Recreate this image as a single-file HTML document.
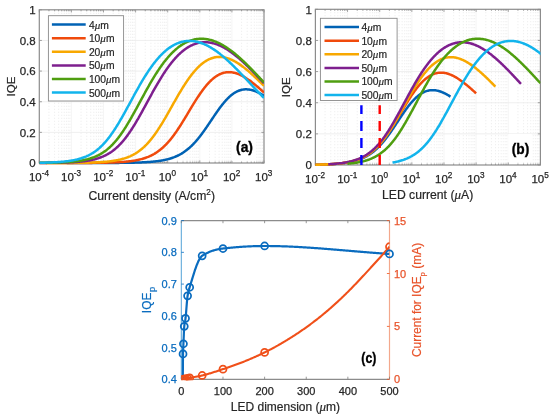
<!DOCTYPE html><html><head><meta charset="utf-8"><style>html,body{margin:0;padding:0;background:#fff;width:550px;height:420px;overflow:hidden}svg{display:block;filter:blur(0.35px)}</style></head><body>
<svg width="550" height="420" viewBox="0 0 550 420">
<rect width="550" height="420" fill="#fff"/>
<clipPath id="ca"><rect x="39.3" y="6.800000000000001" width="224.7" height="159.2"/></clipPath>
<line x1="48.96" y1="9.80" x2="48.96" y2="163.00" stroke="#dadada" stroke-width="0.6" stroke-dasharray="0.9 2.1"/>
<line x1="54.62" y1="9.80" x2="54.62" y2="163.00" stroke="#dadada" stroke-width="0.6" stroke-dasharray="0.9 2.1"/>
<line x1="58.63" y1="9.80" x2="58.63" y2="163.00" stroke="#dadada" stroke-width="0.6" stroke-dasharray="0.9 2.1"/>
<line x1="61.74" y1="9.80" x2="61.74" y2="163.00" stroke="#dadada" stroke-width="0.6" stroke-dasharray="0.9 2.1"/>
<line x1="64.28" y1="9.80" x2="64.28" y2="163.00" stroke="#dadada" stroke-width="0.6" stroke-dasharray="0.9 2.1"/>
<line x1="66.43" y1="9.80" x2="66.43" y2="163.00" stroke="#dadada" stroke-width="0.6" stroke-dasharray="0.9 2.1"/>
<line x1="68.29" y1="9.80" x2="68.29" y2="163.00" stroke="#dadada" stroke-width="0.6" stroke-dasharray="0.9 2.1"/>
<line x1="69.93" y1="9.80" x2="69.93" y2="163.00" stroke="#dadada" stroke-width="0.6" stroke-dasharray="0.9 2.1"/>
<line x1="81.06" y1="9.80" x2="81.06" y2="163.00" stroke="#dadada" stroke-width="0.6" stroke-dasharray="0.9 2.1"/>
<line x1="86.72" y1="9.80" x2="86.72" y2="163.00" stroke="#dadada" stroke-width="0.6" stroke-dasharray="0.9 2.1"/>
<line x1="90.73" y1="9.80" x2="90.73" y2="163.00" stroke="#dadada" stroke-width="0.6" stroke-dasharray="0.9 2.1"/>
<line x1="93.84" y1="9.80" x2="93.84" y2="163.00" stroke="#dadada" stroke-width="0.6" stroke-dasharray="0.9 2.1"/>
<line x1="96.38" y1="9.80" x2="96.38" y2="163.00" stroke="#dadada" stroke-width="0.6" stroke-dasharray="0.9 2.1"/>
<line x1="98.53" y1="9.80" x2="98.53" y2="163.00" stroke="#dadada" stroke-width="0.6" stroke-dasharray="0.9 2.1"/>
<line x1="100.39" y1="9.80" x2="100.39" y2="163.00" stroke="#dadada" stroke-width="0.6" stroke-dasharray="0.9 2.1"/>
<line x1="102.03" y1="9.80" x2="102.03" y2="163.00" stroke="#dadada" stroke-width="0.6" stroke-dasharray="0.9 2.1"/>
<line x1="113.16" y1="9.80" x2="113.16" y2="163.00" stroke="#dadada" stroke-width="0.6" stroke-dasharray="0.9 2.1"/>
<line x1="118.82" y1="9.80" x2="118.82" y2="163.00" stroke="#dadada" stroke-width="0.6" stroke-dasharray="0.9 2.1"/>
<line x1="122.83" y1="9.80" x2="122.83" y2="163.00" stroke="#dadada" stroke-width="0.6" stroke-dasharray="0.9 2.1"/>
<line x1="125.94" y1="9.80" x2="125.94" y2="163.00" stroke="#dadada" stroke-width="0.6" stroke-dasharray="0.9 2.1"/>
<line x1="128.48" y1="9.80" x2="128.48" y2="163.00" stroke="#dadada" stroke-width="0.6" stroke-dasharray="0.9 2.1"/>
<line x1="130.63" y1="9.80" x2="130.63" y2="163.00" stroke="#dadada" stroke-width="0.6" stroke-dasharray="0.9 2.1"/>
<line x1="132.49" y1="9.80" x2="132.49" y2="163.00" stroke="#dadada" stroke-width="0.6" stroke-dasharray="0.9 2.1"/>
<line x1="134.13" y1="9.80" x2="134.13" y2="163.00" stroke="#dadada" stroke-width="0.6" stroke-dasharray="0.9 2.1"/>
<line x1="145.26" y1="9.80" x2="145.26" y2="163.00" stroke="#dadada" stroke-width="0.6" stroke-dasharray="0.9 2.1"/>
<line x1="150.92" y1="9.80" x2="150.92" y2="163.00" stroke="#dadada" stroke-width="0.6" stroke-dasharray="0.9 2.1"/>
<line x1="154.93" y1="9.80" x2="154.93" y2="163.00" stroke="#dadada" stroke-width="0.6" stroke-dasharray="0.9 2.1"/>
<line x1="158.04" y1="9.80" x2="158.04" y2="163.00" stroke="#dadada" stroke-width="0.6" stroke-dasharray="0.9 2.1"/>
<line x1="160.58" y1="9.80" x2="160.58" y2="163.00" stroke="#dadada" stroke-width="0.6" stroke-dasharray="0.9 2.1"/>
<line x1="162.73" y1="9.80" x2="162.73" y2="163.00" stroke="#dadada" stroke-width="0.6" stroke-dasharray="0.9 2.1"/>
<line x1="164.59" y1="9.80" x2="164.59" y2="163.00" stroke="#dadada" stroke-width="0.6" stroke-dasharray="0.9 2.1"/>
<line x1="166.23" y1="9.80" x2="166.23" y2="163.00" stroke="#dadada" stroke-width="0.6" stroke-dasharray="0.9 2.1"/>
<line x1="177.36" y1="9.80" x2="177.36" y2="163.00" stroke="#dadada" stroke-width="0.6" stroke-dasharray="0.9 2.1"/>
<line x1="183.02" y1="9.80" x2="183.02" y2="163.00" stroke="#dadada" stroke-width="0.6" stroke-dasharray="0.9 2.1"/>
<line x1="187.03" y1="9.80" x2="187.03" y2="163.00" stroke="#dadada" stroke-width="0.6" stroke-dasharray="0.9 2.1"/>
<line x1="190.14" y1="9.80" x2="190.14" y2="163.00" stroke="#dadada" stroke-width="0.6" stroke-dasharray="0.9 2.1"/>
<line x1="192.68" y1="9.80" x2="192.68" y2="163.00" stroke="#dadada" stroke-width="0.6" stroke-dasharray="0.9 2.1"/>
<line x1="194.83" y1="9.80" x2="194.83" y2="163.00" stroke="#dadada" stroke-width="0.6" stroke-dasharray="0.9 2.1"/>
<line x1="196.69" y1="9.80" x2="196.69" y2="163.00" stroke="#dadada" stroke-width="0.6" stroke-dasharray="0.9 2.1"/>
<line x1="198.33" y1="9.80" x2="198.33" y2="163.00" stroke="#dadada" stroke-width="0.6" stroke-dasharray="0.9 2.1"/>
<line x1="209.46" y1="9.80" x2="209.46" y2="163.00" stroke="#dadada" stroke-width="0.6" stroke-dasharray="0.9 2.1"/>
<line x1="215.12" y1="9.80" x2="215.12" y2="163.00" stroke="#dadada" stroke-width="0.6" stroke-dasharray="0.9 2.1"/>
<line x1="219.13" y1="9.80" x2="219.13" y2="163.00" stroke="#dadada" stroke-width="0.6" stroke-dasharray="0.9 2.1"/>
<line x1="222.24" y1="9.80" x2="222.24" y2="163.00" stroke="#dadada" stroke-width="0.6" stroke-dasharray="0.9 2.1"/>
<line x1="224.78" y1="9.80" x2="224.78" y2="163.00" stroke="#dadada" stroke-width="0.6" stroke-dasharray="0.9 2.1"/>
<line x1="226.93" y1="9.80" x2="226.93" y2="163.00" stroke="#dadada" stroke-width="0.6" stroke-dasharray="0.9 2.1"/>
<line x1="228.79" y1="9.80" x2="228.79" y2="163.00" stroke="#dadada" stroke-width="0.6" stroke-dasharray="0.9 2.1"/>
<line x1="230.43" y1="9.80" x2="230.43" y2="163.00" stroke="#dadada" stroke-width="0.6" stroke-dasharray="0.9 2.1"/>
<line x1="241.56" y1="9.80" x2="241.56" y2="163.00" stroke="#dadada" stroke-width="0.6" stroke-dasharray="0.9 2.1"/>
<line x1="247.22" y1="9.80" x2="247.22" y2="163.00" stroke="#dadada" stroke-width="0.6" stroke-dasharray="0.9 2.1"/>
<line x1="251.23" y1="9.80" x2="251.23" y2="163.00" stroke="#dadada" stroke-width="0.6" stroke-dasharray="0.9 2.1"/>
<line x1="254.34" y1="9.80" x2="254.34" y2="163.00" stroke="#dadada" stroke-width="0.6" stroke-dasharray="0.9 2.1"/>
<line x1="256.88" y1="9.80" x2="256.88" y2="163.00" stroke="#dadada" stroke-width="0.6" stroke-dasharray="0.9 2.1"/>
<line x1="259.03" y1="9.80" x2="259.03" y2="163.00" stroke="#dadada" stroke-width="0.6" stroke-dasharray="0.9 2.1"/>
<line x1="260.89" y1="9.80" x2="260.89" y2="163.00" stroke="#dadada" stroke-width="0.6" stroke-dasharray="0.9 2.1"/>
<line x1="262.53" y1="9.80" x2="262.53" y2="163.00" stroke="#dadada" stroke-width="0.6" stroke-dasharray="0.9 2.1"/>
<line x1="71.40" y1="9.80" x2="71.40" y2="163.00" stroke="#f0f0f0" stroke-width="0.7"/>
<line x1="103.50" y1="9.80" x2="103.50" y2="163.00" stroke="#f0f0f0" stroke-width="0.7"/>
<line x1="135.60" y1="9.80" x2="135.60" y2="163.00" stroke="#f0f0f0" stroke-width="0.7"/>
<line x1="167.70" y1="9.80" x2="167.70" y2="163.00" stroke="#f0f0f0" stroke-width="0.7"/>
<line x1="199.80" y1="9.80" x2="199.80" y2="163.00" stroke="#f0f0f0" stroke-width="0.7"/>
<line x1="231.90" y1="9.80" x2="231.90" y2="163.00" stroke="#f0f0f0" stroke-width="0.7"/>
<line x1="39.30" y1="132.36" x2="264.00" y2="132.36" stroke="#ebebeb" stroke-width="0.8"/>
<line x1="39.30" y1="101.72" x2="264.00" y2="101.72" stroke="#ebebeb" stroke-width="0.8"/>
<line x1="39.30" y1="71.08" x2="264.00" y2="71.08" stroke="#ebebeb" stroke-width="0.8"/>
<line x1="39.30" y1="40.44" x2="264.00" y2="40.44" stroke="#ebebeb" stroke-width="0.8"/>
<rect x="39.3" y="9.8" width="224.7" height="153.2" fill="none" stroke="#8c8c8c" stroke-width="1.2"/>
<g stroke="#8c8c8c" stroke-width="0.8"><line x1="39.30" y1="163.00" x2="39.30" y2="160.40"/><line x1="39.30" y1="9.80" x2="39.30" y2="12.40"/><line x1="71.40" y1="163.00" x2="71.40" y2="160.40"/><line x1="71.40" y1="9.80" x2="71.40" y2="12.40"/><line x1="103.50" y1="163.00" x2="103.50" y2="160.40"/><line x1="103.50" y1="9.80" x2="103.50" y2="12.40"/><line x1="135.60" y1="163.00" x2="135.60" y2="160.40"/><line x1="135.60" y1="9.80" x2="135.60" y2="12.40"/><line x1="167.70" y1="163.00" x2="167.70" y2="160.40"/><line x1="167.70" y1="9.80" x2="167.70" y2="12.40"/><line x1="199.80" y1="163.00" x2="199.80" y2="160.40"/><line x1="199.80" y1="9.80" x2="199.80" y2="12.40"/><line x1="231.90" y1="163.00" x2="231.90" y2="160.40"/><line x1="231.90" y1="9.80" x2="231.90" y2="12.40"/><line x1="264.00" y1="163.00" x2="264.00" y2="160.40"/><line x1="264.00" y1="9.80" x2="264.00" y2="12.40"/><line x1="48.96" y1="163.00" x2="48.96" y2="161.50"/><line x1="48.96" y1="9.80" x2="48.96" y2="11.30"/><line x1="54.62" y1="163.00" x2="54.62" y2="161.50"/><line x1="54.62" y1="9.80" x2="54.62" y2="11.30"/><line x1="58.63" y1="163.00" x2="58.63" y2="161.50"/><line x1="58.63" y1="9.80" x2="58.63" y2="11.30"/><line x1="61.74" y1="163.00" x2="61.74" y2="161.50"/><line x1="61.74" y1="9.80" x2="61.74" y2="11.30"/><line x1="64.28" y1="163.00" x2="64.28" y2="161.50"/><line x1="64.28" y1="9.80" x2="64.28" y2="11.30"/><line x1="66.43" y1="163.00" x2="66.43" y2="161.50"/><line x1="66.43" y1="9.80" x2="66.43" y2="11.30"/><line x1="68.29" y1="163.00" x2="68.29" y2="161.50"/><line x1="68.29" y1="9.80" x2="68.29" y2="11.30"/><line x1="69.93" y1="163.00" x2="69.93" y2="161.50"/><line x1="69.93" y1="9.80" x2="69.93" y2="11.30"/><line x1="81.06" y1="163.00" x2="81.06" y2="161.50"/><line x1="81.06" y1="9.80" x2="81.06" y2="11.30"/><line x1="86.72" y1="163.00" x2="86.72" y2="161.50"/><line x1="86.72" y1="9.80" x2="86.72" y2="11.30"/><line x1="90.73" y1="163.00" x2="90.73" y2="161.50"/><line x1="90.73" y1="9.80" x2="90.73" y2="11.30"/><line x1="93.84" y1="163.00" x2="93.84" y2="161.50"/><line x1="93.84" y1="9.80" x2="93.84" y2="11.30"/><line x1="96.38" y1="163.00" x2="96.38" y2="161.50"/><line x1="96.38" y1="9.80" x2="96.38" y2="11.30"/><line x1="98.53" y1="163.00" x2="98.53" y2="161.50"/><line x1="98.53" y1="9.80" x2="98.53" y2="11.30"/><line x1="100.39" y1="163.00" x2="100.39" y2="161.50"/><line x1="100.39" y1="9.80" x2="100.39" y2="11.30"/><line x1="102.03" y1="163.00" x2="102.03" y2="161.50"/><line x1="102.03" y1="9.80" x2="102.03" y2="11.30"/><line x1="113.16" y1="163.00" x2="113.16" y2="161.50"/><line x1="113.16" y1="9.80" x2="113.16" y2="11.30"/><line x1="118.82" y1="163.00" x2="118.82" y2="161.50"/><line x1="118.82" y1="9.80" x2="118.82" y2="11.30"/><line x1="122.83" y1="163.00" x2="122.83" y2="161.50"/><line x1="122.83" y1="9.80" x2="122.83" y2="11.30"/><line x1="125.94" y1="163.00" x2="125.94" y2="161.50"/><line x1="125.94" y1="9.80" x2="125.94" y2="11.30"/><line x1="128.48" y1="163.00" x2="128.48" y2="161.50"/><line x1="128.48" y1="9.80" x2="128.48" y2="11.30"/><line x1="130.63" y1="163.00" x2="130.63" y2="161.50"/><line x1="130.63" y1="9.80" x2="130.63" y2="11.30"/><line x1="132.49" y1="163.00" x2="132.49" y2="161.50"/><line x1="132.49" y1="9.80" x2="132.49" y2="11.30"/><line x1="134.13" y1="163.00" x2="134.13" y2="161.50"/><line x1="134.13" y1="9.80" x2="134.13" y2="11.30"/><line x1="145.26" y1="163.00" x2="145.26" y2="161.50"/><line x1="145.26" y1="9.80" x2="145.26" y2="11.30"/><line x1="150.92" y1="163.00" x2="150.92" y2="161.50"/><line x1="150.92" y1="9.80" x2="150.92" y2="11.30"/><line x1="154.93" y1="163.00" x2="154.93" y2="161.50"/><line x1="154.93" y1="9.80" x2="154.93" y2="11.30"/><line x1="158.04" y1="163.00" x2="158.04" y2="161.50"/><line x1="158.04" y1="9.80" x2="158.04" y2="11.30"/><line x1="160.58" y1="163.00" x2="160.58" y2="161.50"/><line x1="160.58" y1="9.80" x2="160.58" y2="11.30"/><line x1="162.73" y1="163.00" x2="162.73" y2="161.50"/><line x1="162.73" y1="9.80" x2="162.73" y2="11.30"/><line x1="164.59" y1="163.00" x2="164.59" y2="161.50"/><line x1="164.59" y1="9.80" x2="164.59" y2="11.30"/><line x1="166.23" y1="163.00" x2="166.23" y2="161.50"/><line x1="166.23" y1="9.80" x2="166.23" y2="11.30"/><line x1="177.36" y1="163.00" x2="177.36" y2="161.50"/><line x1="177.36" y1="9.80" x2="177.36" y2="11.30"/><line x1="183.02" y1="163.00" x2="183.02" y2="161.50"/><line x1="183.02" y1="9.80" x2="183.02" y2="11.30"/><line x1="187.03" y1="163.00" x2="187.03" y2="161.50"/><line x1="187.03" y1="9.80" x2="187.03" y2="11.30"/><line x1="190.14" y1="163.00" x2="190.14" y2="161.50"/><line x1="190.14" y1="9.80" x2="190.14" y2="11.30"/><line x1="192.68" y1="163.00" x2="192.68" y2="161.50"/><line x1="192.68" y1="9.80" x2="192.68" y2="11.30"/><line x1="194.83" y1="163.00" x2="194.83" y2="161.50"/><line x1="194.83" y1="9.80" x2="194.83" y2="11.30"/><line x1="196.69" y1="163.00" x2="196.69" y2="161.50"/><line x1="196.69" y1="9.80" x2="196.69" y2="11.30"/><line x1="198.33" y1="163.00" x2="198.33" y2="161.50"/><line x1="198.33" y1="9.80" x2="198.33" y2="11.30"/><line x1="209.46" y1="163.00" x2="209.46" y2="161.50"/><line x1="209.46" y1="9.80" x2="209.46" y2="11.30"/><line x1="215.12" y1="163.00" x2="215.12" y2="161.50"/><line x1="215.12" y1="9.80" x2="215.12" y2="11.30"/><line x1="219.13" y1="163.00" x2="219.13" y2="161.50"/><line x1="219.13" y1="9.80" x2="219.13" y2="11.30"/><line x1="222.24" y1="163.00" x2="222.24" y2="161.50"/><line x1="222.24" y1="9.80" x2="222.24" y2="11.30"/><line x1="224.78" y1="163.00" x2="224.78" y2="161.50"/><line x1="224.78" y1="9.80" x2="224.78" y2="11.30"/><line x1="226.93" y1="163.00" x2="226.93" y2="161.50"/><line x1="226.93" y1="9.80" x2="226.93" y2="11.30"/><line x1="228.79" y1="163.00" x2="228.79" y2="161.50"/><line x1="228.79" y1="9.80" x2="228.79" y2="11.30"/><line x1="230.43" y1="163.00" x2="230.43" y2="161.50"/><line x1="230.43" y1="9.80" x2="230.43" y2="11.30"/><line x1="241.56" y1="163.00" x2="241.56" y2="161.50"/><line x1="241.56" y1="9.80" x2="241.56" y2="11.30"/><line x1="247.22" y1="163.00" x2="247.22" y2="161.50"/><line x1="247.22" y1="9.80" x2="247.22" y2="11.30"/><line x1="251.23" y1="163.00" x2="251.23" y2="161.50"/><line x1="251.23" y1="9.80" x2="251.23" y2="11.30"/><line x1="254.34" y1="163.00" x2="254.34" y2="161.50"/><line x1="254.34" y1="9.80" x2="254.34" y2="11.30"/><line x1="256.88" y1="163.00" x2="256.88" y2="161.50"/><line x1="256.88" y1="9.80" x2="256.88" y2="11.30"/><line x1="259.03" y1="163.00" x2="259.03" y2="161.50"/><line x1="259.03" y1="9.80" x2="259.03" y2="11.30"/><line x1="260.89" y1="163.00" x2="260.89" y2="161.50"/><line x1="260.89" y1="9.80" x2="260.89" y2="11.30"/><line x1="262.53" y1="163.00" x2="262.53" y2="161.50"/><line x1="262.53" y1="9.80" x2="262.53" y2="11.30"/><line x1="39.30" y1="163.00" x2="41.90" y2="163.00"/><line x1="264.00" y1="163.00" x2="261.40" y2="163.00"/><line x1="39.30" y1="132.36" x2="41.90" y2="132.36"/><line x1="264.00" y1="132.36" x2="261.40" y2="132.36"/><line x1="39.30" y1="101.72" x2="41.90" y2="101.72"/><line x1="264.00" y1="101.72" x2="261.40" y2="101.72"/><line x1="39.30" y1="71.08" x2="41.90" y2="71.08"/><line x1="264.00" y1="71.08" x2="261.40" y2="71.08"/><line x1="39.30" y1="40.44" x2="41.90" y2="40.44"/><line x1="264.00" y1="40.44" x2="261.40" y2="40.44"/><line x1="39.30" y1="9.80" x2="41.90" y2="9.80"/><line x1="264.00" y1="9.80" x2="261.40" y2="9.80"/></g>
<g clip-path="url(#ca)" fill="none" stroke-width="2.5" stroke-linejoin="round">
<path d="M66.73,163.00 L67.53,163.00 L68.33,163.00 L69.14,163.00 L69.94,163.00 L70.74,163.00 L71.54,163.00 L72.35,163.00 L73.15,163.00 L73.95,163.00 L74.75,162.99 L75.56,162.99 L76.36,162.99 L77.16,162.99 L77.96,162.99 L78.77,162.99 L79.57,162.99 L80.37,162.99 L81.17,162.99 L81.98,162.99 L82.78,162.99 L83.58,162.99 L84.39,162.99 L85.19,162.99 L85.99,162.99 L86.79,162.99 L87.60,162.99 L88.40,162.99 L89.20,162.99 L90.00,162.98 L90.81,162.98 L91.61,162.98 L92.41,162.98 L93.21,162.98 L94.02,162.98 L94.82,162.98 L95.62,162.98 L96.43,162.98 L97.23,162.97 L98.03,162.97 L98.83,162.97 L99.64,162.97 L100.44,162.97 L101.24,162.97 L102.04,162.96 L102.85,162.96 L103.65,162.96 L104.45,162.96 L105.26,162.96 L106.06,162.95 L106.86,162.95 L107.66,162.95 L108.47,162.94 L109.27,162.94 L110.07,162.94 L110.88,162.93 L111.68,162.93 L112.48,162.92 L113.29,162.92 L114.09,162.92 L114.89,162.91 L115.69,162.90 L116.50,162.90 L117.30,162.89 L118.10,162.89 L118.91,162.88 L119.71,162.87 L120.51,162.87 L121.32,162.86 L122.12,162.85 L122.92,162.84 L123.73,162.83 L124.53,162.82 L125.33,162.81 L126.14,162.80 L126.94,162.79 L127.75,162.77 L128.55,162.76 L129.35,162.75 L130.16,162.73 L130.96,162.72 L131.77,162.70 L132.57,162.68 L133.37,162.66 L134.18,162.64 L134.98,162.62 L135.79,162.60 L136.59,162.58 L137.40,162.55 L138.20,162.52 L139.01,162.50 L139.81,162.47 L140.62,162.44 L141.42,162.40 L142.23,162.37 L143.04,162.33 L143.84,162.29 L144.65,162.25 L145.45,162.20 L146.26,162.16 L147.07,162.11 L147.88,162.05 L148.68,162.00 L149.49,161.94 L150.30,161.88 L151.11,161.81 L151.92,161.74 L152.73,161.67 L153.54,161.59 L154.35,161.51 L155.16,161.42 L155.97,161.33 L156.78,161.23 L157.59,161.13 L158.41,161.02 L159.22,160.90 L160.03,160.78 L160.85,160.65 L161.66,160.51 L162.48,160.37 L163.30,160.21 L164.08,160.06 L164.87,159.89 L165.65,159.72 L166.44,159.54 L167.23,159.35 L168.02,159.14 L168.81,158.93 L169.60,158.71 L170.40,158.47 L171.19,158.22 L171.95,157.97 L172.72,157.70 L173.48,157.43 L174.25,157.14 L175.02,156.83 L175.79,156.51 L176.52,156.19 L177.26,155.85 L178.00,155.50 L178.75,155.13 L179.46,154.76 L180.17,154.38 L180.88,153.97 L181.60,153.56 L182.29,153.14 L182.97,152.71 L183.66,152.26 L184.35,151.79 L185.01,151.33 L185.67,150.85 L186.33,150.35 L186.99,149.84 L187.62,149.34 L188.26,148.81 L188.89,148.27 L189.53,147.72 L190.14,147.17 L190.74,146.62 L191.35,146.04 L191.93,145.48 L192.51,144.91 L193.09,144.32 L193.67,143.71 L194.25,143.09 L194.80,142.49 L195.36,141.88 L195.91,141.25 L196.47,140.61 L196.99,140.00 L197.52,139.37 L198.05,138.74 L198.58,138.08 L199.11,137.42 L199.60,136.79 L200.10,136.15 L200.60,135.50 L201.11,134.84 L201.61,134.17 L202.12,133.48 L202.63,132.79 L203.10,132.14 L203.58,131.48 L204.06,130.81 L204.54,130.13 L205.02,129.44 L205.51,128.75 L205.99,128.05 L206.48,127.34 L206.98,126.62 L207.43,125.95 L207.89,125.28 L208.34,124.61 L208.80,123.92 L209.27,123.24 L209.73,122.54 L210.20,121.85 L210.67,121.14 L211.14,120.44 L211.62,119.73 L212.10,119.01 L212.58,118.30 L213.06,117.58 L213.55,116.86 L214.04,116.13 L214.53,115.41 L215.03,114.68 L215.48,114.02 L215.93,113.36 L216.39,112.70 L216.85,112.04 L217.31,111.38 L217.78,110.72 L218.25,110.06 L218.72,109.41 L219.19,108.76 L219.67,108.11 L220.15,107.46 L220.63,106.82 L221.11,106.18 L221.65,105.49 L222.19,104.80 L222.74,104.12 L223.28,103.44 L223.83,102.78 L224.39,102.12 L224.95,101.47 L225.51,100.83 L226.08,100.21 L226.65,99.59 L227.22,98.99 L227.80,98.40 L228.38,97.82 L228.97,97.26 L229.56,96.71 L230.21,96.13 L230.86,95.57 L231.52,95.03 L232.19,94.51 L232.86,94.01 L233.53,93.53 L234.21,93.08 L234.89,92.65 L235.58,92.24 L236.34,91.83 L237.10,91.44 L237.86,91.09 L238.64,90.77 L239.41,90.48 L240.20,90.22 L240.99,89.99 L241.79,89.80 L242.59,89.64 L243.40,89.51 L244.22,89.42 L245.05,89.37 L245.88,89.34 L246.71,89.35 L247.56,89.40 L248.41,89.48 L249.26,89.59 L250.06,89.73 L250.86,89.89 L251.67,90.08 L252.48,90.30 L253.30,90.55 L254.12,90.82 L254.88,91.10 L255.64,91.39 L256.41,91.71 L257.19,92.05 L257.96,92.41 L258.74,92.80 L259.46,93.16 L260.18,93.54 L260.90,93.94 L261.63,94.35 L262.35,94.78 L263.09,95.22 L263.82,95.68 L263.97,95.77" stroke="#0062b4"/>
<path d="M46.25,163.00 L47.05,163.00 L47.85,162.99 L48.65,162.99 L49.46,162.99 L50.26,162.99 L51.06,162.99 L51.87,162.99 L52.67,162.99 L53.47,162.99 L54.27,162.99 L55.08,162.99 L55.88,162.99 L56.68,162.99 L57.48,162.99 L58.29,162.99 L59.09,162.99 L59.89,162.99 L60.69,162.99 L61.50,162.99 L62.30,162.99 L63.10,162.99 L63.91,162.98 L64.71,162.98 L65.51,162.98 L66.31,162.98 L67.12,162.98 L67.92,162.98 L68.72,162.98 L69.52,162.98 L70.33,162.97 L71.13,162.97 L71.93,162.97 L72.74,162.97 L73.54,162.97 L74.34,162.97 L75.14,162.96 L75.95,162.96 L76.75,162.96 L77.55,162.96 L78.35,162.96 L79.16,162.95 L79.96,162.95 L80.76,162.95 L81.57,162.94 L82.37,162.94 L83.17,162.94 L83.97,162.93 L84.78,162.93 L85.58,162.93 L86.38,162.92 L87.19,162.92 L87.99,162.91 L88.79,162.91 L89.60,162.90 L90.40,162.89 L91.20,162.89 L92.01,162.88 L92.81,162.87 L93.61,162.87 L94.42,162.86 L95.22,162.85 L96.02,162.84 L96.83,162.83 L97.63,162.82 L98.43,162.81 L99.24,162.80 L100.04,162.79 L100.84,162.78 L101.65,162.76 L102.45,162.75 L103.26,162.73 L104.06,162.72 L104.86,162.70 L105.67,162.68 L106.47,162.67 L107.28,162.65 L108.08,162.62 L108.89,162.60 L109.69,162.58 L110.50,162.55 L111.30,162.53 L112.11,162.50 L112.91,162.47 L113.72,162.44 L114.52,162.41 L115.33,162.37 L116.13,162.33 L116.94,162.29 L117.75,162.25 L118.55,162.21 L119.36,162.16 L120.17,162.11 L120.97,162.06 L121.78,162.01 L122.59,161.95 L123.40,161.89 L124.21,161.82 L125.02,161.75 L125.83,161.68 L126.63,161.60 L127.44,161.52 L128.26,161.43 L129.07,161.34 L129.88,161.24 L130.69,161.14 L131.50,161.03 L132.32,160.91 L133.13,160.79 L133.94,160.66 L134.76,160.53 L135.58,160.38 L136.39,160.23 L137.21,160.07 L138.00,159.91 L138.78,159.73 L139.57,159.55 L140.36,159.36 L141.15,159.16 L141.94,158.95 L142.73,158.72 L143.52,158.49 L144.32,158.24 L145.08,157.99 L145.84,157.73 L146.61,157.45 L147.37,157.16 L148.14,156.86 L148.91,156.54 L149.65,156.22 L150.39,155.88 L151.13,155.53 L151.87,155.16 L152.61,154.77 L153.32,154.39 L154.04,153.99 L154.75,153.57 L155.47,153.13 L156.15,152.70 L156.84,152.25 L157.53,151.78 L158.19,151.32 L158.85,150.84 L159.51,150.34 L160.17,149.82 L160.80,149.32 L161.43,148.79 L162.06,148.25 L162.66,147.72 L163.27,147.17 L163.87,146.61 L164.48,146.03 L165.05,145.47 L165.63,144.89 L166.20,144.30 L166.78,143.69 L167.33,143.10 L167.88,142.50 L168.43,141.88 L168.98,141.25 L169.53,140.60 L170.05,139.98 L170.57,139.35 L171.09,138.70 L171.62,138.04 L172.15,137.37 L172.64,136.73 L173.13,136.08 L173.63,135.41 L174.12,134.74 L174.62,134.05 L175.12,133.35 L175.59,132.69 L176.06,132.03 L176.52,131.35 L177.00,130.66 L177.47,129.96 L177.94,129.25 L178.42,128.54 L178.90,127.81 L179.34,127.13 L179.78,126.45 L180.23,125.75 L180.67,125.05 L181.12,124.34 L181.57,123.63 L182.03,122.90 L182.48,122.17 L182.94,121.44 L183.39,120.69 L183.81,120.01 L184.23,119.32 L184.66,118.62 L185.08,117.92 L185.51,117.22 L185.93,116.51 L186.36,115.80 L186.79,115.08 L187.23,114.36 L187.66,113.63 L188.10,112.90 L188.54,112.17 L188.98,111.43 L189.43,110.69 L189.87,109.95 L190.32,109.20 L190.77,108.45 L191.22,107.70 L191.67,106.95 L192.13,106.20 L192.59,105.45 L193.05,104.69 L193.51,103.94 L193.98,103.18 L194.44,102.43 L194.91,101.68 L195.39,100.92 L195.86,100.17 L196.34,99.42 L196.82,98.68 L197.30,97.93 L197.78,97.19 L198.27,96.45 L198.76,95.72 L199.25,94.99 L199.74,94.26 L200.24,93.54 L200.74,92.82 L201.24,92.11 L201.75,91.41 L202.25,90.71 L202.76,90.02 L203.27,89.33 L203.79,88.66 L204.31,87.99 L204.83,87.33 L205.35,86.68 L205.87,86.04 L206.40,85.41 L206.93,84.79 L207.47,84.18 L208.00,83.58 L208.60,82.93 L209.19,82.30 L209.79,81.68 L210.40,81.08 L211.00,80.49 L211.61,79.92 L212.23,79.37 L212.85,78.84 L213.47,78.32 L214.15,77.77 L214.83,77.25 L215.52,76.75 L216.22,76.28 L216.91,75.83 L217.62,75.40 L218.32,75.00 L219.03,74.62 L219.81,74.24 L220.59,73.89 L221.37,73.57 L222.16,73.28 L222.96,73.02 L223.76,72.80 L224.56,72.61 L225.37,72.45 L226.19,72.32 L227.01,72.23 L227.83,72.17 L228.66,72.14 L229.50,72.14 L230.34,72.18 L231.19,72.25 L232.04,72.36 L232.89,72.50 L233.69,72.65 L234.49,72.84 L235.29,73.05 L236.10,73.29 L236.91,73.55 L237.72,73.84 L238.48,74.13 L239.23,74.45 L239.99,74.78 L240.75,75.14 L241.52,75.51 L242.29,75.91 L243.06,76.33 L243.77,76.72 L244.48,77.14 L245.19,77.57 L245.90,78.01 L246.62,78.47 L247.34,78.94 L248.07,79.43 L248.79,79.94 L249.45,80.40 L250.11,80.88 L250.77,81.37 L251.43,81.86 L252.10,82.37 L252.76,82.89 L253.43,83.41 L254.11,83.95 L254.78,84.50 L255.46,85.05 L256.14,85.61 L256.82,86.18 L257.50,86.76 L258.11,87.28 L258.72,87.81 L259.33,88.34 L259.95,88.88 L260.56,89.42 L261.18,89.97 L261.80,90.52 L262.42,91.07 L263.04,91.64 L263.67,92.20 L263.98,92.48" stroke="#f04a0c"/>
<path d="M39.30,162.99 L40.11,162.99 L40.91,162.99 L41.71,162.99 L42.51,162.99 L43.32,162.99 L44.12,162.98 L44.92,162.98 L45.73,162.98 L46.53,162.98 L47.33,162.98 L48.13,162.98 L48.94,162.98 L49.74,162.98 L50.54,162.98 L51.34,162.97 L52.15,162.97 L52.95,162.97 L53.75,162.97 L54.56,162.97 L55.36,162.97 L56.16,162.96 L56.96,162.96 L57.77,162.96 L58.57,162.96 L59.37,162.95 L60.18,162.95 L60.98,162.95 L61.78,162.95 L62.58,162.94 L63.39,162.94 L64.19,162.93 L64.99,162.93 L65.80,162.93 L66.60,162.92 L67.40,162.92 L68.20,162.91 L69.01,162.91 L69.81,162.90 L70.61,162.90 L71.42,162.89 L72.22,162.88 L73.02,162.88 L73.83,162.87 L74.63,162.86 L75.43,162.85 L76.24,162.85 L77.04,162.84 L77.84,162.83 L78.65,162.82 L79.45,162.81 L80.25,162.79 L81.06,162.78 L81.86,162.77 L82.67,162.75 L83.47,162.74 L84.27,162.73 L85.08,162.71 L85.88,162.69 L86.69,162.67 L87.49,162.65 L88.30,162.63 L89.10,162.61 L89.90,162.59 L90.71,162.56 L91.51,162.54 L92.32,162.51 L93.12,162.48 L93.93,162.45 L94.74,162.42 L95.54,162.39 L96.35,162.35 L97.15,162.31 L97.96,162.27 L98.77,162.23 L99.57,162.18 L100.38,162.13 L101.19,162.08 L101.99,162.03 L102.80,161.97 L103.61,161.91 L104.42,161.85 L105.23,161.78 L106.04,161.71 L106.85,161.63 L107.66,161.55 L108.47,161.47 L109.28,161.38 L110.09,161.28 L110.90,161.18 L111.71,161.07 L112.53,160.96 L113.34,160.84 L114.15,160.72 L114.97,160.58 L115.78,160.44 L116.60,160.29 L117.42,160.14 L118.20,159.98 L118.99,159.81 L119.78,159.63 L120.57,159.44 L121.35,159.25 L122.14,159.04 L122.93,158.82 L123.73,158.59 L124.52,158.35 L125.32,158.09 L126.08,157.83 L126.84,157.56 L127.61,157.28 L128.37,156.98 L129.14,156.66 L129.88,156.35 L130.62,156.02 L131.36,155.67 L132.10,155.31 L132.84,154.93 L133.55,154.56 L134.26,154.16 L134.98,153.75 L135.69,153.32 L136.38,152.90 L137.06,152.45 L137.75,151.99 L138.44,151.51 L139.10,151.04 L139.76,150.55 L140.42,150.04 L141.05,149.54 L141.68,149.02 L142.31,148.48 L142.94,147.93 L143.54,147.39 L144.15,146.84 L144.75,146.26 L145.36,145.67 L145.93,145.10 L146.51,144.51 L147.08,143.90 L147.66,143.28 L148.21,142.68 L148.76,142.06 L149.31,141.43 L149.86,140.78 L150.37,140.17 L150.89,139.54 L151.41,138.89 L151.94,138.23 L152.46,137.56 L152.95,136.92 L153.44,136.27 L153.93,135.60 L154.43,134.92 L154.92,134.24 L155.42,133.53 L155.88,132.87 L156.35,132.20 L156.81,131.52 L157.28,130.83 L157.75,130.13 L158.22,129.41 L158.69,128.69 L159.13,128.02 L159.57,127.33 L160.01,126.64 L160.45,125.94 L160.89,125.23 L161.33,124.52 L161.78,123.79 L162.23,123.06 L162.67,122.31 L163.13,121.56 L163.54,120.87 L163.95,120.17 L164.37,119.47 L164.78,118.76 L165.20,118.05 L165.62,117.32 L166.04,116.60 L166.47,115.86 L166.89,115.12 L167.32,114.38 L167.75,113.63 L168.18,112.87 L168.61,112.11 L169.04,111.34 L169.48,110.57 L169.87,109.88 L170.27,109.18 L170.66,108.47 L171.06,107.76 L171.46,107.05 L171.86,106.34 L172.27,105.63 L172.67,104.91 L173.08,104.19 L173.48,103.46 L173.89,102.74 L174.30,102.01 L174.72,101.29 L175.13,100.56 L175.55,99.83 L175.96,99.09 L176.38,98.36 L176.80,97.63 L177.23,96.90 L177.65,96.16 L178.08,95.43 L178.50,94.70 L178.93,93.96 L179.36,93.23 L179.80,92.50 L180.23,91.77 L180.67,91.04 L181.10,90.32 L181.54,89.59 L181.99,88.87 L182.43,88.15 L182.87,87.43 L183.32,86.72 L183.77,86.01 L184.22,85.30 L184.67,84.60 L185.13,83.90 L185.58,83.20 L186.04,82.51 L186.50,81.82 L186.96,81.14 L187.42,80.46 L187.89,79.79 L188.35,79.12 L188.82,78.46 L189.29,77.81 L189.76,77.16 L190.29,76.45 L190.82,75.74 L191.35,75.05 L191.89,74.36 L192.42,73.68 L192.96,73.02 L193.50,72.36 L194.04,71.71 L194.59,71.08 L195.14,70.45 L195.69,69.83 L196.24,69.23 L196.79,68.64 L197.35,68.06 L197.96,67.44 L198.58,66.83 L199.20,66.23 L199.83,65.66 L200.45,65.09 L201.08,64.55 L201.71,64.02 L202.35,63.51 L202.98,63.02 L203.68,62.50 L204.38,62.00 L205.09,61.52 L205.80,61.07 L206.51,60.64 L207.22,60.23 L207.94,59.84 L208.66,59.48 L209.39,59.14 L210.18,58.80 L210.97,58.48 L211.77,58.20 L212.57,57.94 L213.37,57.71 L214.18,57.51 L214.99,57.34 L215.81,57.19 L216.63,57.08 L217.45,56.99 L218.28,56.94 L219.11,56.91 L219.94,56.91 L220.78,56.95 L221.63,57.01 L222.47,57.10 L223.32,57.22 L224.11,57.35 L224.90,57.51 L225.70,57.70 L226.50,57.91 L227.30,58.14 L228.10,58.40 L228.91,58.68 L229.72,58.99 L230.47,59.29 L231.22,59.61 L231.97,59.95 L232.72,60.31 L233.48,60.68 L234.24,61.08 L235.01,61.50 L235.77,61.93 L236.47,62.34 L237.17,62.77 L237.88,63.21 L238.58,63.66 L239.29,64.13 L240.00,64.61 L240.71,65.11 L241.43,65.62 L242.14,66.14 L242.79,66.62 L243.44,67.12 L244.09,67.62 L244.74,68.13 L245.40,68.65 L246.06,69.19 L246.72,69.73 L247.38,70.28 L248.04,70.84 L248.70,71.41 L249.37,71.99 L250.04,72.57 L250.71,73.17 L251.30,73.70 L251.90,74.24 L252.50,74.79 L253.10,75.34 L253.71,75.90 L254.31,76.47 L254.92,77.04 L255.52,77.61 L256.13,78.19 L256.74,78.77 L257.35,79.36 L257.97,79.96 L258.58,80.56 L259.20,81.16 L259.81,81.76 L260.43,82.37 L261.05,82.99 L261.67,83.61 L262.30,84.23 L262.92,84.85 L263.55,85.48 L263.94,85.87" stroke="#f8a800"/>
<path d="M39.30,162.93 L40.11,162.92 L40.91,162.92 L41.71,162.91 L42.52,162.91 L43.32,162.90 L44.12,162.90 L44.93,162.89 L45.73,162.88 L46.53,162.88 L47.34,162.87 L48.14,162.86 L48.94,162.85 L49.75,162.84 L50.55,162.83 L51.35,162.82 L52.16,162.81 L52.96,162.80 L53.76,162.79 L54.57,162.78 L55.37,162.77 L56.18,162.75 L56.98,162.74 L57.78,162.72 L58.59,162.71 L59.39,162.69 L60.20,162.67 L61.00,162.65 L61.80,162.63 L62.61,162.61 L63.41,162.59 L64.22,162.56 L65.02,162.54 L65.83,162.51 L66.63,162.48 L67.44,162.45 L68.25,162.42 L69.05,162.38 L69.86,162.34 L70.66,162.31 L71.47,162.26 L72.28,162.22 L73.08,162.18 L73.89,162.13 L74.70,162.08 L75.50,162.02 L76.31,161.96 L77.12,161.90 L77.93,161.84 L78.74,161.77 L79.55,161.70 L80.36,161.62 L81.17,161.54 L81.98,161.45 L82.79,161.36 L83.60,161.27 L84.41,161.17 L85.22,161.06 L86.04,160.94 L86.85,160.82 L87.67,160.70 L88.48,160.56 L89.30,160.42 L90.11,160.27 L90.93,160.11 L91.72,159.95 L92.50,159.78 L93.29,159.60 L94.08,159.41 L94.87,159.22 L95.66,159.01 L96.45,158.79 L97.24,158.55 L98.03,158.31 L98.79,158.06 L99.56,157.80 L100.32,157.53 L101.09,157.24 L101.85,156.94 L102.62,156.63 L103.36,156.31 L104.10,155.98 L104.84,155.63 L105.58,155.27 L106.32,154.89 L107.03,154.51 L107.74,154.11 L108.46,153.70 L109.17,153.26 L109.86,152.84 L110.54,152.39 L111.23,151.93 L111.92,151.44 L112.58,150.97 L113.24,150.47 L113.90,149.96 L114.53,149.46 L115.16,148.94 L115.79,148.40 L116.42,147.84 L117.02,147.30 L117.63,146.74 L118.23,146.16 L118.84,145.57 L119.41,144.99 L119.99,144.40 L120.56,143.79 L121.11,143.20 L121.65,142.60 L122.20,141.98 L122.75,141.35 L123.30,140.70 L123.82,140.08 L124.33,139.44 L124.85,138.79 L125.38,138.13 L125.90,137.45 L126.39,136.81 L126.88,136.15 L127.37,135.48 L127.86,134.80 L128.36,134.11 L128.86,133.40 L129.32,132.74 L129.78,132.06 L130.25,131.38 L130.71,130.68 L131.18,129.97 L131.65,129.25 L132.12,128.52 L132.56,127.84 L132.99,127.15 L133.43,126.45 L133.87,125.75 L134.31,125.03 L134.75,124.31 L135.20,123.57 L135.64,122.83 L136.09,122.08 L136.50,121.39 L136.91,120.69 L137.32,119.98 L137.74,119.27 L138.15,118.55 L138.57,117.83 L138.98,117.09 L139.40,116.36 L139.82,115.61 L140.25,114.86 L140.67,114.10 L141.10,113.34 L141.53,112.57 L141.96,111.79 L142.34,111.09 L142.73,110.38 L143.12,109.67 L143.52,108.96 L143.91,108.24 L144.30,107.52 L144.70,106.79 L145.10,106.06 L145.50,105.33 L145.90,104.59 L146.30,103.85 L146.70,103.10 L147.11,102.36 L147.52,101.61 L147.93,100.86 L148.34,100.10 L148.75,99.35 L149.16,98.59 L149.57,97.83 L149.99,97.07 L150.41,96.31 L150.83,95.54 L151.25,94.78 L151.67,94.01 L152.09,93.24 L152.52,92.48 L152.94,91.71 L153.37,90.94 L153.80,90.17 L154.23,89.40 L154.67,88.64 L155.10,87.87 L155.54,87.10 L155.98,86.34 L156.42,85.57 L156.86,84.81 L157.30,84.05 L157.75,83.29 L158.19,82.53 L158.64,81.78 L159.09,81.03 L159.54,80.28 L159.99,79.53 L160.45,78.79 L160.90,78.04 L161.36,77.31 L161.82,76.57 L162.28,75.84 L162.74,75.12 L163.20,74.39 L163.67,73.68 L164.14,72.96 L164.61,72.25 L165.08,71.55 L165.55,70.85 L166.02,70.16 L166.50,69.47 L166.97,68.79 L167.45,68.11 L167.93,67.44 L168.41,66.78 L168.89,66.12 L169.38,65.47 L169.87,64.82 L170.35,64.19 L170.90,63.49 L171.44,62.79 L171.99,62.11 L172.54,61.44 L173.09,60.77 L173.64,60.12 L174.20,59.47 L174.75,58.83 L175.31,58.21 L175.87,57.59 L176.44,56.99 L177.00,56.39 L177.57,55.81 L178.13,55.24 L178.70,54.67 L179.33,54.07 L179.96,53.48 L180.60,52.90 L181.23,52.33 L181.87,51.78 L182.51,51.25 L183.15,50.73 L183.79,50.22 L184.44,49.73 L185.08,49.25 L185.79,48.75 L186.50,48.26 L187.22,47.79 L187.93,47.34 L188.65,46.91 L189.37,46.50 L190.10,46.10 L190.82,45.73 L191.55,45.37 L192.28,45.03 L193.08,44.69 L193.87,44.36 L194.67,44.06 L195.47,43.79 L196.28,43.53 L197.09,43.30 L197.90,43.09 L198.71,42.90 L199.53,42.73 L200.34,42.59 L201.16,42.47 L201.99,42.38 L202.81,42.30 L203.64,42.25 L204.47,42.22 L205.31,42.22 L206.15,42.24 L206.98,42.28 L207.83,42.34 L208.67,42.43 L209.52,42.54 L210.37,42.67 L211.22,42.82 L212.01,42.99 L212.80,43.17 L213.60,43.37 L214.39,43.59 L215.19,43.83 L215.99,44.09 L216.80,44.37 L217.60,44.67 L218.41,44.99 L219.15,45.29 L219.90,45.62 L220.64,45.95 L221.39,46.31 L222.14,46.68 L222.89,47.06 L223.65,47.46 L224.41,47.88 L225.16,48.31 L225.86,48.72 L226.55,49.13 L227.24,49.56 L227.94,50.01 L228.64,50.46 L229.34,50.93 L230.04,51.41 L230.74,51.90 L231.45,52.40 L232.16,52.91 L232.86,53.44 L233.50,53.92 L234.14,54.41 L234.79,54.91 L235.43,55.42 L236.08,55.94 L236.72,56.47 L237.37,57.00 L238.02,57.55 L238.67,58.10 L239.32,58.66 L239.98,59.23 L240.63,59.81 L241.29,60.39 L241.95,60.99 L242.61,61.59 L243.27,62.19 L243.86,62.74 L244.45,63.29 L245.04,63.85 L245.64,64.42 L246.23,64.98 L246.83,65.56 L247.42,66.14 L248.02,66.72 L248.62,67.31 L249.22,67.91 L249.82,68.51 L250.43,69.11 L251.03,69.72 L251.64,70.33 L252.24,70.95 L252.85,71.57 L253.46,72.20 L254.07,72.83 L254.68,73.46 L255.30,74.09 L255.91,74.73 L256.53,75.38 L257.14,76.02 L257.76,76.67 L258.38,77.33 L259.00,77.98 L259.62,78.64 L260.25,79.30 L260.87,79.96 L261.50,80.63 L262.05,81.21 L262.60,81.80 L263.15,82.39 L263.70,82.98 L263.93,83.23" stroke="#7e1f8e"/>
<path d="M39.33,162.88 L40.13,162.87 L40.94,162.86 L41.74,162.85 L42.54,162.84 L43.35,162.83 L44.15,162.82 L44.95,162.81 L45.76,162.80 L46.56,162.79 L47.37,162.78 L48.17,162.76 L48.97,162.75 L49.78,162.74 L50.58,162.72 L51.39,162.70 L52.19,162.69 L52.99,162.67 L53.80,162.65 L54.60,162.63 L55.41,162.61 L56.21,162.58 L57.02,162.56 L57.82,162.53 L58.63,162.50 L59.43,162.47 L60.24,162.44 L61.04,162.41 L61.85,162.38 L62.65,162.34 L63.46,162.30 L64.27,162.26 L65.07,162.21 L65.88,162.17 L66.69,162.12 L67.50,162.07 L68.30,162.01 L69.11,161.95 L69.92,161.89 L70.73,161.83 L71.54,161.76 L72.35,161.69 L73.16,161.61 L73.97,161.53 L74.78,161.44 L75.59,161.35 L76.40,161.25 L77.21,161.15 L78.02,161.04 L78.84,160.93 L79.65,160.81 L80.46,160.68 L81.28,160.54 L82.10,160.40 L82.91,160.25 L83.73,160.09 L84.52,159.93 L85.30,159.76 L86.09,159.58 L86.88,159.39 L87.67,159.19 L88.46,158.97 L89.25,158.75 L90.04,158.52 L90.83,158.27 L91.60,158.02 L92.36,157.76 L93.12,157.49 L93.89,157.20 L94.66,156.89 L95.42,156.58 L96.16,156.26 L96.90,155.92 L97.64,155.57 L98.38,155.21 L99.12,154.82 L99.83,154.44 L100.55,154.04 L101.26,153.62 L101.98,153.19 L102.66,152.76 L103.35,152.31 L104.04,151.84 L104.69,151.38 L105.35,150.90 L106.01,150.40 L106.67,149.89 L107.30,149.38 L107.93,148.86 L108.56,148.32 L109.20,147.76 L109.80,147.22 L110.40,146.65 L111.01,146.07 L111.58,145.51 L112.15,144.93 L112.73,144.34 L113.30,143.72 L113.85,143.13 L114.39,142.53 L114.94,141.91 L115.49,141.27 L116.04,140.62 L116.56,140.00 L117.07,139.36 L117.59,138.71 L118.12,138.05 L118.64,137.37 L119.13,136.72 L119.62,136.07 L120.11,135.40 L120.60,134.71 L121.10,134.02 L121.60,133.31 L122.06,132.64 L122.52,131.96 L122.99,131.28 L123.45,130.58 L123.92,129.87 L124.39,129.14 L124.86,128.41 L125.30,127.73 L125.73,127.04 L126.17,126.34 L126.61,125.63 L127.05,124.91 L127.49,124.18 L127.94,123.45 L128.39,122.70 L128.83,121.95 L129.24,121.26 L129.65,120.56 L130.06,119.85 L130.48,119.13 L130.89,118.41 L131.31,117.68 L131.73,116.95 L132.14,116.21 L132.57,115.46 L132.99,114.71 L133.41,113.95 L133.84,113.18 L134.27,112.41 L134.70,111.63 L135.08,110.92 L135.47,110.22 L135.86,109.50 L136.26,108.78 L136.65,108.06 L137.04,107.34 L137.44,106.61 L137.84,105.87 L138.24,105.13 L138.64,104.39 L139.04,103.65 L139.44,102.90 L139.85,102.15 L140.25,101.40 L140.66,100.65 L141.07,99.89 L141.48,99.13 L141.90,98.37 L142.31,97.60 L142.73,96.84 L143.14,96.07 L143.56,95.30 L143.98,94.53 L144.40,93.76 L144.83,92.99 L145.25,92.21 L145.68,91.44 L146.11,90.67 L146.53,89.89 L146.97,89.12 L147.40,88.34 L147.83,87.57 L148.27,86.80 L148.71,86.03 L149.14,85.25 L149.59,84.48 L150.03,83.72 L150.47,82.95 L150.92,82.18 L151.36,81.42 L151.81,80.66 L152.26,79.90 L152.71,79.15 L153.17,78.39 L153.62,77.64 L154.08,76.89 L154.54,76.15 L154.99,75.41 L155.46,74.67 L155.92,73.94 L156.38,73.21 L156.85,72.48 L157.32,71.76 L157.78,71.05 L158.25,70.34 L158.73,69.63 L159.20,68.93 L159.68,68.23 L160.15,67.54 L160.63,66.86 L161.11,66.18 L161.59,65.50 L162.07,64.83 L162.56,64.17 L163.04,63.52 L163.53,62.87 L164.02,62.23 L164.51,61.59 L165.06,60.89 L165.60,60.20 L166.15,59.52 L166.71,58.85 L167.26,58.19 L167.82,57.53 L168.37,56.89 L168.93,56.25 L169.49,55.63 L170.05,55.01 L170.62,54.41 L171.19,53.81 L171.75,53.23 L172.32,52.66 L172.89,52.09 L173.52,51.48 L174.16,50.89 L174.79,50.31 L175.43,49.74 L176.06,49.18 L176.70,48.64 L177.35,48.12 L177.99,47.60 L178.64,47.10 L179.28,46.61 L179.93,46.14 L180.64,45.64 L181.36,45.16 L182.07,44.70 L182.79,44.25 L183.51,43.82 L184.23,43.40 L184.96,43.00 L185.68,42.63 L186.41,42.26 L187.14,41.92 L187.88,41.59 L188.67,41.26 L189.47,40.94 L190.27,40.65 L191.08,40.38 L191.88,40.13 L192.69,39.90 L193.50,39.69 L194.32,39.50 L195.13,39.33 L195.95,39.18 L196.77,39.06 L197.59,38.95 L198.42,38.87 L199.25,38.80 L200.08,38.76 L200.91,38.74 L201.74,38.74 L202.58,38.76 L203.42,38.81 L204.26,38.87 L205.11,38.95 L205.95,39.06 L206.80,39.19 L207.65,39.33 L208.44,39.49 L209.23,39.66 L210.02,39.85 L210.82,40.06 L211.61,40.28 L212.41,40.53 L213.21,40.79 L214.01,41.07 L214.82,41.36 L215.62,41.68 L216.37,41.98 L217.11,42.30 L217.85,42.63 L218.60,42.98 L219.35,43.34 L220.10,43.72 L220.85,44.11 L221.60,44.52 L222.36,44.94 L223.12,45.37 L223.81,45.78 L224.50,46.20 L225.19,46.63 L225.89,47.07 L226.59,47.52 L227.28,47.99 L227.98,48.46 L228.69,48.95 L229.39,49.45 L230.09,49.96 L230.80,50.48 L231.51,51.01 L232.15,51.50 L232.79,51.99 L233.43,52.50 L234.07,53.01 L234.72,53.54 L235.36,54.07 L236.01,54.60 L236.66,55.15 L237.31,55.71 L237.96,56.27 L238.61,56.84 L239.26,57.42 L239.92,58.00 L240.58,58.60 L241.23,59.20 L241.89,59.81 L242.48,60.36 L243.07,60.91 L243.66,61.47 L244.25,62.03 L244.85,62.60 L245.44,63.17 L246.03,63.75 L246.63,64.34 L247.23,64.93 L247.83,65.52 L248.42,66.12 L249.03,66.72 L249.63,67.33 L250.23,67.94 L250.84,68.56 L251.44,69.18 L252.05,69.81 L252.66,70.43 L253.26,71.07 L253.88,71.70 L254.49,72.34 L255.10,72.99 L255.71,73.63 L256.33,74.28 L256.95,74.94 L257.56,75.59 L258.18,76.25 L258.80,76.91 L259.43,77.58 L260.05,78.25 L260.59,78.83 L261.14,79.42 L261.69,80.01 L262.24,80.60 L262.79,81.19 L263.34,81.78 L263.89,82.38 L263.97,82.46" stroke="#4f9e10"/>
<path d="M39.32,162.75 L40.13,162.74 L40.93,162.72 L41.74,162.71 L42.54,162.69 L43.34,162.67 L44.15,162.65 L44.95,162.63 L45.76,162.61 L46.56,162.59 L47.37,162.56 L48.17,162.53 L48.98,162.51 L49.78,162.48 L50.59,162.45 L51.39,162.41 L52.20,162.38 L53.01,162.34 L53.81,162.31 L54.62,162.26 L55.42,162.22 L56.23,162.17 L57.04,162.13 L57.85,162.07 L58.65,162.02 L59.46,161.96 L60.27,161.90 L61.08,161.84 L61.89,161.77 L62.70,161.70 L63.51,161.62 L64.32,161.54 L65.13,161.45 L65.94,161.36 L66.75,161.27 L67.56,161.16 L68.37,161.06 L69.19,160.94 L70.00,160.82 L70.81,160.70 L71.63,160.56 L72.44,160.42 L73.26,160.27 L74.08,160.11 L74.86,159.95 L75.65,159.78 L76.44,159.60 L77.23,159.41 L78.01,159.21 L78.80,159.00 L79.60,158.78 L80.39,158.55 L81.18,158.31 L81.94,158.06 L82.71,157.80 L83.47,157.53 L84.24,157.24 L85.00,156.94 L85.77,156.62 L86.51,156.31 L87.25,155.97 L87.98,155.63 L88.73,155.26 L89.47,154.88 L90.18,154.50 L90.89,154.11 L91.61,153.69 L92.32,153.26 L93.01,152.83 L93.69,152.39 L94.38,151.92 L95.07,151.44 L95.73,150.96 L96.39,150.47 L97.05,149.96 L97.67,149.45 L98.30,148.93 L98.94,148.39 L99.57,147.84 L100.17,147.29 L100.78,146.73 L101.38,146.16 L101.95,145.60 L102.52,145.02 L103.10,144.43 L103.68,143.82 L104.26,143.19 L104.80,142.59 L105.35,141.97 L105.90,141.34 L106.45,140.69 L106.96,140.07 L107.48,139.43 L108.00,138.78 L108.52,138.12 L109.05,137.44 L109.54,136.80 L110.03,136.14 L110.52,135.47 L111.01,134.79 L111.51,134.10 L112.01,133.39 L112.47,132.72 L112.93,132.05 L113.39,131.36 L113.86,130.66 L114.33,129.96 L114.80,129.24 L115.27,128.50 L115.71,127.82 L116.14,127.13 L116.58,126.44 L117.02,125.73 L117.46,125.01 L117.90,124.29 L118.35,123.55 L118.79,122.81 L119.24,122.06 L119.65,121.37 L120.06,120.67 L120.47,119.96 L120.88,119.25 L121.30,118.53 L121.71,117.80 L122.13,117.07 L122.55,116.33 L122.97,115.58 L123.39,114.83 L123.82,114.07 L124.24,113.31 L124.67,112.54 L125.10,111.76 L125.49,111.06 L125.88,110.35 L126.27,109.64 L126.66,108.92 L127.05,108.20 L127.45,107.48 L127.85,106.75 L128.24,106.02 L128.64,105.29 L129.04,104.55 L129.45,103.81 L129.85,103.06 L130.25,102.31 L130.66,101.56 L131.07,100.81 L131.48,100.06 L131.89,99.30 L132.30,98.54 L132.72,97.78 L133.13,97.01 L133.55,96.25 L133.97,95.48 L134.39,94.72 L134.81,93.95 L135.23,93.18 L135.66,92.41 L136.09,91.64 L136.51,90.87 L136.94,90.10 L137.38,89.33 L137.81,88.56 L138.24,87.79 L138.68,87.02 L139.12,86.25 L139.56,85.49 L140.00,84.72 L140.44,83.96 L140.88,83.19 L141.33,82.43 L141.78,81.68 L142.22,80.92 L142.68,80.17 L143.13,79.42 L143.58,78.67 L144.04,77.92 L144.49,77.18 L144.95,76.44 L145.41,75.71 L145.87,74.98 L146.34,74.25 L146.80,73.53 L147.27,72.81 L147.74,72.10 L148.21,71.39 L148.68,70.68 L149.15,69.99 L149.62,69.29 L150.10,68.60 L150.58,67.92 L151.06,67.25 L151.54,66.58 L152.02,65.91 L152.50,65.25 L152.99,64.60 L153.47,63.96 L153.96,63.32 L154.51,62.62 L155.05,61.92 L155.60,61.24 L156.15,60.56 L156.70,59.90 L157.26,59.24 L157.81,58.60 L158.37,57.96 L158.93,57.33 L159.49,56.72 L160.05,56.11 L160.62,55.51 L161.18,54.93 L161.75,54.35 L162.32,53.79 L162.95,53.18 L163.58,52.58 L164.21,52.00 L164.85,51.44 L165.49,50.88 L166.13,50.34 L166.77,49.82 L167.41,49.30 L168.06,48.81 L168.70,48.32 L169.35,47.86 L170.06,47.36 L170.78,46.89 L171.49,46.43 L172.21,45.99 L172.93,45.56 L173.65,45.16 L174.38,44.77 L175.11,44.40 L175.83,44.05 L176.57,43.72 L177.36,43.38 L178.16,43.06 L178.96,42.77 L179.76,42.49 L180.57,42.24 L181.38,42.01 L182.19,41.80 L183.00,41.62 L183.82,41.46 L184.64,41.31 L185.46,41.19 L186.28,41.10 L187.11,41.02 L187.93,40.97 L188.77,40.94 L189.60,40.93 L190.44,40.94 L191.27,40.98 L192.12,41.04 L192.96,41.12 L193.81,41.22 L194.66,41.35 L195.51,41.49 L196.30,41.65 L197.09,41.82 L197.88,42.02 L198.67,42.23 L199.47,42.46 L200.27,42.71 L201.07,42.98 L201.88,43.26 L202.68,43.57 L203.49,43.89 L204.23,44.20 L204.98,44.53 L205.72,44.87 L206.47,45.23 L207.22,45.61 L207.98,45.99 L208.73,46.40 L209.49,46.82 L210.25,47.25 L210.94,47.66 L211.63,48.08 L212.32,48.51 L213.02,48.95 L213.72,49.41 L214.42,49.87 L215.12,50.35 L215.82,50.84 L216.53,51.35 L217.23,51.86 L217.94,52.38 L218.58,52.87 L219.22,53.36 L219.86,53.86 L220.50,54.37 L221.15,54.88 L221.79,55.41 L222.44,55.94 L223.09,56.49 L223.74,57.04 L224.39,57.60 L225.05,58.16 L225.70,58.74 L226.36,59.32 L227.01,59.92 L227.67,60.51 L228.33,61.12 L228.92,61.67 L229.51,62.22 L230.10,62.77 L230.69,63.33 L231.29,63.90 L231.88,64.47 L232.48,65.05 L233.07,65.64 L233.67,66.22 L234.27,66.82 L234.87,67.41 L235.47,68.02 L236.08,68.62 L236.68,69.24 L237.29,69.85 L237.89,70.47 L238.50,71.09 L239.11,71.72 L239.72,72.35 L240.33,72.99 L240.95,73.63 L241.56,74.27 L242.18,74.92 L242.79,75.57 L243.41,76.22 L244.03,76.87 L244.65,77.53 L245.27,78.19 L245.90,78.85 L246.52,79.52 L247.07,80.10 L247.62,80.69 L248.16,81.28 L248.71,81.86 L249.27,82.45 L249.82,83.05 L250.37,83.64 L250.93,84.23 L251.48,84.83 L252.04,85.42 L252.59,86.02 L253.15,86.61 L253.71,87.21 L254.27,87.81 L254.83,88.41 L255.39,89.01 L255.96,89.61 L256.52,90.21 L257.08,90.81 L257.65,91.40 L258.22,92.00 L258.78,92.60 L259.35,93.20 L259.92,93.80 L260.49,94.40 L261.06,94.99 L261.64,95.59 L262.21,96.19 L262.78,96.78 L263.36,97.38 L263.93,97.97" stroke="#12b4ec"/>
</g>
<g font-family='"Liberation Sans", sans-serif' font-size="11.5" fill="#262626" stroke="#262626" stroke-width="0.25">
<text x="35.70" y="167.30" text-anchor="end">0</text>
<text x="35.70" y="136.66" text-anchor="end">0.2</text>
<text x="35.70" y="106.02" text-anchor="end">0.4</text>
<text x="35.70" y="75.38" text-anchor="end">0.6</text>
<text x="35.70" y="44.74" text-anchor="end">0.8</text>
<text x="35.70" y="14.10" text-anchor="end">1</text>
<text x="39.00" y="181.00" text-anchor="middle">10<tspan font-size="8.2" dy="-5.2">‑4</tspan></text>
<text x="71.10" y="181.00" text-anchor="middle">10<tspan font-size="8.2" dy="-5.2">‑3</tspan></text>
<text x="103.20" y="181.00" text-anchor="middle">10<tspan font-size="8.2" dy="-5.2">‑2</tspan></text>
<text x="135.30" y="181.00" text-anchor="middle">10<tspan font-size="8.2" dy="-5.2">‑1</tspan></text>
<text x="167.40" y="181.00" text-anchor="middle">10<tspan font-size="8.2" dy="-5.2">0</tspan></text>
<text x="199.50" y="181.00" text-anchor="middle">10<tspan font-size="8.2" dy="-5.2">1</tspan></text>
<text x="231.60" y="181.00" text-anchor="middle">10<tspan font-size="8.2" dy="-5.2">2</tspan></text>
<text x="263.70" y="181.00" text-anchor="middle">10<tspan font-size="8.2" dy="-5.2">3</tspan></text>
</g>
<text transform="translate(15.0 86.40) rotate(-90)" font-family='"Liberation Sans", sans-serif' font-size="11.6" fill="#262626" stroke="#262626" stroke-width="0.2" text-anchor="middle">IQE</text>
<text x="151.7" y="199.7" font-family='"Liberation Sans", sans-serif' font-size="12.2" fill="#262626" stroke="#262626" stroke-width="0.2" text-anchor="middle">Current density (A/cm<tspan font-size="8.2" dy="-4.6">2</tspan><tspan dy="4.6">)</tspan></text>
<rect x="48.4" y="15.7" width="75.19999999999999" height="85.3" fill="#fff" stroke="#8a8a8a" stroke-width="0.9"/>
<line x1="51.9" y1="24.60" x2="85.7" y2="24.60" stroke="#0062b4" stroke-width="2.5"/>
<text x="88.9" y="28.50" font-family='"Liberation Sans", sans-serif' font-size="10.3" fill="#262626" stroke="#262626" stroke-width="0.2">4<tspan font-family="Liberation Serif" font-style="italic" font-size="11">μ</tspan>m</text>
<line x1="51.9" y1="38.20" x2="85.7" y2="38.20" stroke="#f04a0c" stroke-width="2.5"/>
<text x="88.9" y="42.10" font-family='"Liberation Sans", sans-serif' font-size="10.3" fill="#262626" stroke="#262626" stroke-width="0.2">10<tspan font-family="Liberation Serif" font-style="italic" font-size="11">μ</tspan>m</text>
<line x1="51.9" y1="51.80" x2="85.7" y2="51.80" stroke="#f8a800" stroke-width="2.5"/>
<text x="88.9" y="55.70" font-family='"Liberation Sans", sans-serif' font-size="10.3" fill="#262626" stroke="#262626" stroke-width="0.2">20<tspan font-family="Liberation Serif" font-style="italic" font-size="11">μ</tspan>m</text>
<line x1="51.9" y1="65.40" x2="85.7" y2="65.40" stroke="#7e1f8e" stroke-width="2.5"/>
<text x="88.9" y="69.30" font-family='"Liberation Sans", sans-serif' font-size="10.3" fill="#262626" stroke="#262626" stroke-width="0.2">50<tspan font-family="Liberation Serif" font-style="italic" font-size="11">μ</tspan>m</text>
<line x1="51.9" y1="79.00" x2="85.7" y2="79.00" stroke="#4f9e10" stroke-width="2.5"/>
<text x="88.9" y="82.90" font-family='"Liberation Sans", sans-serif' font-size="10.3" fill="#262626" stroke="#262626" stroke-width="0.2">100<tspan font-family="Liberation Serif" font-style="italic" font-size="11">μ</tspan>m</text>
<line x1="51.9" y1="92.60" x2="85.7" y2="92.60" stroke="#12b4ec" stroke-width="2.5"/>
<text x="88.9" y="96.50" font-family='"Liberation Sans", sans-serif' font-size="10.3" fill="#262626" stroke="#262626" stroke-width="0.2">500<tspan font-family="Liberation Serif" font-style="italic" font-size="11">μ</tspan>m</text>
<rect x="231.7" y="133.3" width="24.3" height="27.5" fill="#fff"/>
<text x="236" y="151.6" font-family='"Liberation Sans", sans-serif' font-size="14.5" font-weight="bold" fill="#000" stroke="#000" stroke-width="0.35" textLength="17" lengthAdjust="spacingAndGlyphs">(a)</text>
<clipPath id="cb"><rect x="315.4" y="6.300000000000001" width="225.0" height="161.7"/></clipPath>
<line x1="325.08" y1="9.30" x2="325.08" y2="165.00" stroke="#dadada" stroke-width="0.6" stroke-dasharray="0.9 2.1"/>
<line x1="330.74" y1="9.30" x2="330.74" y2="165.00" stroke="#dadada" stroke-width="0.6" stroke-dasharray="0.9 2.1"/>
<line x1="334.75" y1="9.30" x2="334.75" y2="165.00" stroke="#dadada" stroke-width="0.6" stroke-dasharray="0.9 2.1"/>
<line x1="337.87" y1="9.30" x2="337.87" y2="165.00" stroke="#dadada" stroke-width="0.6" stroke-dasharray="0.9 2.1"/>
<line x1="340.41" y1="9.30" x2="340.41" y2="165.00" stroke="#dadada" stroke-width="0.6" stroke-dasharray="0.9 2.1"/>
<line x1="342.56" y1="9.30" x2="342.56" y2="165.00" stroke="#dadada" stroke-width="0.6" stroke-dasharray="0.9 2.1"/>
<line x1="344.43" y1="9.30" x2="344.43" y2="165.00" stroke="#dadada" stroke-width="0.6" stroke-dasharray="0.9 2.1"/>
<line x1="346.07" y1="9.30" x2="346.07" y2="165.00" stroke="#dadada" stroke-width="0.6" stroke-dasharray="0.9 2.1"/>
<line x1="357.22" y1="9.30" x2="357.22" y2="165.00" stroke="#dadada" stroke-width="0.6" stroke-dasharray="0.9 2.1"/>
<line x1="362.88" y1="9.30" x2="362.88" y2="165.00" stroke="#dadada" stroke-width="0.6" stroke-dasharray="0.9 2.1"/>
<line x1="366.89" y1="9.30" x2="366.89" y2="165.00" stroke="#dadada" stroke-width="0.6" stroke-dasharray="0.9 2.1"/>
<line x1="370.01" y1="9.30" x2="370.01" y2="165.00" stroke="#dadada" stroke-width="0.6" stroke-dasharray="0.9 2.1"/>
<line x1="372.55" y1="9.30" x2="372.55" y2="165.00" stroke="#dadada" stroke-width="0.6" stroke-dasharray="0.9 2.1"/>
<line x1="374.71" y1="9.30" x2="374.71" y2="165.00" stroke="#dadada" stroke-width="0.6" stroke-dasharray="0.9 2.1"/>
<line x1="376.57" y1="9.30" x2="376.57" y2="165.00" stroke="#dadada" stroke-width="0.6" stroke-dasharray="0.9 2.1"/>
<line x1="378.21" y1="9.30" x2="378.21" y2="165.00" stroke="#dadada" stroke-width="0.6" stroke-dasharray="0.9 2.1"/>
<line x1="389.36" y1="9.30" x2="389.36" y2="165.00" stroke="#dadada" stroke-width="0.6" stroke-dasharray="0.9 2.1"/>
<line x1="395.02" y1="9.30" x2="395.02" y2="165.00" stroke="#dadada" stroke-width="0.6" stroke-dasharray="0.9 2.1"/>
<line x1="399.04" y1="9.30" x2="399.04" y2="165.00" stroke="#dadada" stroke-width="0.6" stroke-dasharray="0.9 2.1"/>
<line x1="402.15" y1="9.30" x2="402.15" y2="165.00" stroke="#dadada" stroke-width="0.6" stroke-dasharray="0.9 2.1"/>
<line x1="404.70" y1="9.30" x2="404.70" y2="165.00" stroke="#dadada" stroke-width="0.6" stroke-dasharray="0.9 2.1"/>
<line x1="406.85" y1="9.30" x2="406.85" y2="165.00" stroke="#dadada" stroke-width="0.6" stroke-dasharray="0.9 2.1"/>
<line x1="408.71" y1="9.30" x2="408.71" y2="165.00" stroke="#dadada" stroke-width="0.6" stroke-dasharray="0.9 2.1"/>
<line x1="410.36" y1="9.30" x2="410.36" y2="165.00" stroke="#dadada" stroke-width="0.6" stroke-dasharray="0.9 2.1"/>
<line x1="421.50" y1="9.30" x2="421.50" y2="165.00" stroke="#dadada" stroke-width="0.6" stroke-dasharray="0.9 2.1"/>
<line x1="427.16" y1="9.30" x2="427.16" y2="165.00" stroke="#dadada" stroke-width="0.6" stroke-dasharray="0.9 2.1"/>
<line x1="431.18" y1="9.30" x2="431.18" y2="165.00" stroke="#dadada" stroke-width="0.6" stroke-dasharray="0.9 2.1"/>
<line x1="434.30" y1="9.30" x2="434.30" y2="165.00" stroke="#dadada" stroke-width="0.6" stroke-dasharray="0.9 2.1"/>
<line x1="436.84" y1="9.30" x2="436.84" y2="165.00" stroke="#dadada" stroke-width="0.6" stroke-dasharray="0.9 2.1"/>
<line x1="438.99" y1="9.30" x2="438.99" y2="165.00" stroke="#dadada" stroke-width="0.6" stroke-dasharray="0.9 2.1"/>
<line x1="440.86" y1="9.30" x2="440.86" y2="165.00" stroke="#dadada" stroke-width="0.6" stroke-dasharray="0.9 2.1"/>
<line x1="442.50" y1="9.30" x2="442.50" y2="165.00" stroke="#dadada" stroke-width="0.6" stroke-dasharray="0.9 2.1"/>
<line x1="453.65" y1="9.30" x2="453.65" y2="165.00" stroke="#dadada" stroke-width="0.6" stroke-dasharray="0.9 2.1"/>
<line x1="459.31" y1="9.30" x2="459.31" y2="165.00" stroke="#dadada" stroke-width="0.6" stroke-dasharray="0.9 2.1"/>
<line x1="463.32" y1="9.30" x2="463.32" y2="165.00" stroke="#dadada" stroke-width="0.6" stroke-dasharray="0.9 2.1"/>
<line x1="466.44" y1="9.30" x2="466.44" y2="165.00" stroke="#dadada" stroke-width="0.6" stroke-dasharray="0.9 2.1"/>
<line x1="468.98" y1="9.30" x2="468.98" y2="165.00" stroke="#dadada" stroke-width="0.6" stroke-dasharray="0.9 2.1"/>
<line x1="471.14" y1="9.30" x2="471.14" y2="165.00" stroke="#dadada" stroke-width="0.6" stroke-dasharray="0.9 2.1"/>
<line x1="473.00" y1="9.30" x2="473.00" y2="165.00" stroke="#dadada" stroke-width="0.6" stroke-dasharray="0.9 2.1"/>
<line x1="474.64" y1="9.30" x2="474.64" y2="165.00" stroke="#dadada" stroke-width="0.6" stroke-dasharray="0.9 2.1"/>
<line x1="485.79" y1="9.30" x2="485.79" y2="165.00" stroke="#dadada" stroke-width="0.6" stroke-dasharray="0.9 2.1"/>
<line x1="491.45" y1="9.30" x2="491.45" y2="165.00" stroke="#dadada" stroke-width="0.6" stroke-dasharray="0.9 2.1"/>
<line x1="495.47" y1="9.30" x2="495.47" y2="165.00" stroke="#dadada" stroke-width="0.6" stroke-dasharray="0.9 2.1"/>
<line x1="498.58" y1="9.30" x2="498.58" y2="165.00" stroke="#dadada" stroke-width="0.6" stroke-dasharray="0.9 2.1"/>
<line x1="501.13" y1="9.30" x2="501.13" y2="165.00" stroke="#dadada" stroke-width="0.6" stroke-dasharray="0.9 2.1"/>
<line x1="503.28" y1="9.30" x2="503.28" y2="165.00" stroke="#dadada" stroke-width="0.6" stroke-dasharray="0.9 2.1"/>
<line x1="505.14" y1="9.30" x2="505.14" y2="165.00" stroke="#dadada" stroke-width="0.6" stroke-dasharray="0.9 2.1"/>
<line x1="506.79" y1="9.30" x2="506.79" y2="165.00" stroke="#dadada" stroke-width="0.6" stroke-dasharray="0.9 2.1"/>
<line x1="517.93" y1="9.30" x2="517.93" y2="165.00" stroke="#dadada" stroke-width="0.6" stroke-dasharray="0.9 2.1"/>
<line x1="523.59" y1="9.30" x2="523.59" y2="165.00" stroke="#dadada" stroke-width="0.6" stroke-dasharray="0.9 2.1"/>
<line x1="527.61" y1="9.30" x2="527.61" y2="165.00" stroke="#dadada" stroke-width="0.6" stroke-dasharray="0.9 2.1"/>
<line x1="530.72" y1="9.30" x2="530.72" y2="165.00" stroke="#dadada" stroke-width="0.6" stroke-dasharray="0.9 2.1"/>
<line x1="533.27" y1="9.30" x2="533.27" y2="165.00" stroke="#dadada" stroke-width="0.6" stroke-dasharray="0.9 2.1"/>
<line x1="535.42" y1="9.30" x2="535.42" y2="165.00" stroke="#dadada" stroke-width="0.6" stroke-dasharray="0.9 2.1"/>
<line x1="537.29" y1="9.30" x2="537.29" y2="165.00" stroke="#dadada" stroke-width="0.6" stroke-dasharray="0.9 2.1"/>
<line x1="538.93" y1="9.30" x2="538.93" y2="165.00" stroke="#dadada" stroke-width="0.6" stroke-dasharray="0.9 2.1"/>
<line x1="347.54" y1="9.30" x2="347.54" y2="165.00" stroke="#f0f0f0" stroke-width="0.7"/>
<line x1="379.69" y1="9.30" x2="379.69" y2="165.00" stroke="#f0f0f0" stroke-width="0.7"/>
<line x1="411.83" y1="9.30" x2="411.83" y2="165.00" stroke="#f0f0f0" stroke-width="0.7"/>
<line x1="443.97" y1="9.30" x2="443.97" y2="165.00" stroke="#f0f0f0" stroke-width="0.7"/>
<line x1="476.11" y1="9.30" x2="476.11" y2="165.00" stroke="#f0f0f0" stroke-width="0.7"/>
<line x1="508.26" y1="9.30" x2="508.26" y2="165.00" stroke="#f0f0f0" stroke-width="0.7"/>
<line x1="315.40" y1="133.86" x2="540.40" y2="133.86" stroke="#ebebeb" stroke-width="0.8"/>
<line x1="315.40" y1="102.72" x2="540.40" y2="102.72" stroke="#ebebeb" stroke-width="0.8"/>
<line x1="315.40" y1="71.58" x2="540.40" y2="71.58" stroke="#ebebeb" stroke-width="0.8"/>
<line x1="315.40" y1="40.44" x2="540.40" y2="40.44" stroke="#ebebeb" stroke-width="0.8"/>
<rect x="315.4" y="9.3" width="225.0" height="155.7" fill="none" stroke="#8c8c8c" stroke-width="1.2"/>
<g stroke="#8c8c8c" stroke-width="0.8"><line x1="315.40" y1="165.00" x2="315.40" y2="162.40"/><line x1="315.40" y1="9.30" x2="315.40" y2="11.90"/><line x1="347.54" y1="165.00" x2="347.54" y2="162.40"/><line x1="347.54" y1="9.30" x2="347.54" y2="11.90"/><line x1="379.69" y1="165.00" x2="379.69" y2="162.40"/><line x1="379.69" y1="9.30" x2="379.69" y2="11.90"/><line x1="411.83" y1="165.00" x2="411.83" y2="162.40"/><line x1="411.83" y1="9.30" x2="411.83" y2="11.90"/><line x1="443.97" y1="165.00" x2="443.97" y2="162.40"/><line x1="443.97" y1="9.30" x2="443.97" y2="11.90"/><line x1="476.11" y1="165.00" x2="476.11" y2="162.40"/><line x1="476.11" y1="9.30" x2="476.11" y2="11.90"/><line x1="508.26" y1="165.00" x2="508.26" y2="162.40"/><line x1="508.26" y1="9.30" x2="508.26" y2="11.90"/><line x1="540.40" y1="165.00" x2="540.40" y2="162.40"/><line x1="540.40" y1="9.30" x2="540.40" y2="11.90"/><line x1="325.08" y1="165.00" x2="325.08" y2="163.50"/><line x1="325.08" y1="9.30" x2="325.08" y2="10.80"/><line x1="330.74" y1="165.00" x2="330.74" y2="163.50"/><line x1="330.74" y1="9.30" x2="330.74" y2="10.80"/><line x1="334.75" y1="165.00" x2="334.75" y2="163.50"/><line x1="334.75" y1="9.30" x2="334.75" y2="10.80"/><line x1="337.87" y1="165.00" x2="337.87" y2="163.50"/><line x1="337.87" y1="9.30" x2="337.87" y2="10.80"/><line x1="340.41" y1="165.00" x2="340.41" y2="163.50"/><line x1="340.41" y1="9.30" x2="340.41" y2="10.80"/><line x1="342.56" y1="165.00" x2="342.56" y2="163.50"/><line x1="342.56" y1="9.30" x2="342.56" y2="10.80"/><line x1="344.43" y1="165.00" x2="344.43" y2="163.50"/><line x1="344.43" y1="9.30" x2="344.43" y2="10.80"/><line x1="346.07" y1="165.00" x2="346.07" y2="163.50"/><line x1="346.07" y1="9.30" x2="346.07" y2="10.80"/><line x1="357.22" y1="165.00" x2="357.22" y2="163.50"/><line x1="357.22" y1="9.30" x2="357.22" y2="10.80"/><line x1="362.88" y1="165.00" x2="362.88" y2="163.50"/><line x1="362.88" y1="9.30" x2="362.88" y2="10.80"/><line x1="366.89" y1="165.00" x2="366.89" y2="163.50"/><line x1="366.89" y1="9.30" x2="366.89" y2="10.80"/><line x1="370.01" y1="165.00" x2="370.01" y2="163.50"/><line x1="370.01" y1="9.30" x2="370.01" y2="10.80"/><line x1="372.55" y1="165.00" x2="372.55" y2="163.50"/><line x1="372.55" y1="9.30" x2="372.55" y2="10.80"/><line x1="374.71" y1="165.00" x2="374.71" y2="163.50"/><line x1="374.71" y1="9.30" x2="374.71" y2="10.80"/><line x1="376.57" y1="165.00" x2="376.57" y2="163.50"/><line x1="376.57" y1="9.30" x2="376.57" y2="10.80"/><line x1="378.21" y1="165.00" x2="378.21" y2="163.50"/><line x1="378.21" y1="9.30" x2="378.21" y2="10.80"/><line x1="389.36" y1="165.00" x2="389.36" y2="163.50"/><line x1="389.36" y1="9.30" x2="389.36" y2="10.80"/><line x1="395.02" y1="165.00" x2="395.02" y2="163.50"/><line x1="395.02" y1="9.30" x2="395.02" y2="10.80"/><line x1="399.04" y1="165.00" x2="399.04" y2="163.50"/><line x1="399.04" y1="9.30" x2="399.04" y2="10.80"/><line x1="402.15" y1="165.00" x2="402.15" y2="163.50"/><line x1="402.15" y1="9.30" x2="402.15" y2="10.80"/><line x1="404.70" y1="165.00" x2="404.70" y2="163.50"/><line x1="404.70" y1="9.30" x2="404.70" y2="10.80"/><line x1="406.85" y1="165.00" x2="406.85" y2="163.50"/><line x1="406.85" y1="9.30" x2="406.85" y2="10.80"/><line x1="408.71" y1="165.00" x2="408.71" y2="163.50"/><line x1="408.71" y1="9.30" x2="408.71" y2="10.80"/><line x1="410.36" y1="165.00" x2="410.36" y2="163.50"/><line x1="410.36" y1="9.30" x2="410.36" y2="10.80"/><line x1="421.50" y1="165.00" x2="421.50" y2="163.50"/><line x1="421.50" y1="9.30" x2="421.50" y2="10.80"/><line x1="427.16" y1="165.00" x2="427.16" y2="163.50"/><line x1="427.16" y1="9.30" x2="427.16" y2="10.80"/><line x1="431.18" y1="165.00" x2="431.18" y2="163.50"/><line x1="431.18" y1="9.30" x2="431.18" y2="10.80"/><line x1="434.30" y1="165.00" x2="434.30" y2="163.50"/><line x1="434.30" y1="9.30" x2="434.30" y2="10.80"/><line x1="436.84" y1="165.00" x2="436.84" y2="163.50"/><line x1="436.84" y1="9.30" x2="436.84" y2="10.80"/><line x1="438.99" y1="165.00" x2="438.99" y2="163.50"/><line x1="438.99" y1="9.30" x2="438.99" y2="10.80"/><line x1="440.86" y1="165.00" x2="440.86" y2="163.50"/><line x1="440.86" y1="9.30" x2="440.86" y2="10.80"/><line x1="442.50" y1="165.00" x2="442.50" y2="163.50"/><line x1="442.50" y1="9.30" x2="442.50" y2="10.80"/><line x1="453.65" y1="165.00" x2="453.65" y2="163.50"/><line x1="453.65" y1="9.30" x2="453.65" y2="10.80"/><line x1="459.31" y1="165.00" x2="459.31" y2="163.50"/><line x1="459.31" y1="9.30" x2="459.31" y2="10.80"/><line x1="463.32" y1="165.00" x2="463.32" y2="163.50"/><line x1="463.32" y1="9.30" x2="463.32" y2="10.80"/><line x1="466.44" y1="165.00" x2="466.44" y2="163.50"/><line x1="466.44" y1="9.30" x2="466.44" y2="10.80"/><line x1="468.98" y1="165.00" x2="468.98" y2="163.50"/><line x1="468.98" y1="9.30" x2="468.98" y2="10.80"/><line x1="471.14" y1="165.00" x2="471.14" y2="163.50"/><line x1="471.14" y1="9.30" x2="471.14" y2="10.80"/><line x1="473.00" y1="165.00" x2="473.00" y2="163.50"/><line x1="473.00" y1="9.30" x2="473.00" y2="10.80"/><line x1="474.64" y1="165.00" x2="474.64" y2="163.50"/><line x1="474.64" y1="9.30" x2="474.64" y2="10.80"/><line x1="485.79" y1="165.00" x2="485.79" y2="163.50"/><line x1="485.79" y1="9.30" x2="485.79" y2="10.80"/><line x1="491.45" y1="165.00" x2="491.45" y2="163.50"/><line x1="491.45" y1="9.30" x2="491.45" y2="10.80"/><line x1="495.47" y1="165.00" x2="495.47" y2="163.50"/><line x1="495.47" y1="9.30" x2="495.47" y2="10.80"/><line x1="498.58" y1="165.00" x2="498.58" y2="163.50"/><line x1="498.58" y1="9.30" x2="498.58" y2="10.80"/><line x1="501.13" y1="165.00" x2="501.13" y2="163.50"/><line x1="501.13" y1="9.30" x2="501.13" y2="10.80"/><line x1="503.28" y1="165.00" x2="503.28" y2="163.50"/><line x1="503.28" y1="9.30" x2="503.28" y2="10.80"/><line x1="505.14" y1="165.00" x2="505.14" y2="163.50"/><line x1="505.14" y1="9.30" x2="505.14" y2="10.80"/><line x1="506.79" y1="165.00" x2="506.79" y2="163.50"/><line x1="506.79" y1="9.30" x2="506.79" y2="10.80"/><line x1="517.93" y1="165.00" x2="517.93" y2="163.50"/><line x1="517.93" y1="9.30" x2="517.93" y2="10.80"/><line x1="523.59" y1="165.00" x2="523.59" y2="163.50"/><line x1="523.59" y1="9.30" x2="523.59" y2="10.80"/><line x1="527.61" y1="165.00" x2="527.61" y2="163.50"/><line x1="527.61" y1="9.30" x2="527.61" y2="10.80"/><line x1="530.72" y1="165.00" x2="530.72" y2="163.50"/><line x1="530.72" y1="9.30" x2="530.72" y2="10.80"/><line x1="533.27" y1="165.00" x2="533.27" y2="163.50"/><line x1="533.27" y1="9.30" x2="533.27" y2="10.80"/><line x1="535.42" y1="165.00" x2="535.42" y2="163.50"/><line x1="535.42" y1="9.30" x2="535.42" y2="10.80"/><line x1="537.29" y1="165.00" x2="537.29" y2="163.50"/><line x1="537.29" y1="9.30" x2="537.29" y2="10.80"/><line x1="538.93" y1="165.00" x2="538.93" y2="163.50"/><line x1="538.93" y1="9.30" x2="538.93" y2="10.80"/><line x1="315.40" y1="165.00" x2="318.00" y2="165.00"/><line x1="540.40" y1="165.00" x2="537.80" y2="165.00"/><line x1="315.40" y1="133.86" x2="318.00" y2="133.86"/><line x1="540.40" y1="133.86" x2="537.80" y2="133.86"/><line x1="315.40" y1="102.72" x2="318.00" y2="102.72"/><line x1="540.40" y1="102.72" x2="537.80" y2="102.72"/><line x1="315.40" y1="71.58" x2="318.00" y2="71.58"/><line x1="540.40" y1="71.58" x2="537.80" y2="71.58"/><line x1="315.40" y1="40.44" x2="318.00" y2="40.44"/><line x1="540.40" y1="40.44" x2="537.80" y2="40.44"/><line x1="315.40" y1="9.30" x2="318.00" y2="9.30"/><line x1="540.40" y1="9.30" x2="537.80" y2="9.30"/></g>
<g clip-path="url(#cb)" fill="none" stroke-width="2.5" stroke-linejoin="round">
<path d="M257.69,165.00 L258.49,165.00 L259.30,165.00 L260.10,165.00 L260.90,164.99 L261.71,164.99 L262.51,164.99 L263.32,164.99 L264.12,164.99 L264.92,164.99 L265.73,164.99 L266.53,164.99 L267.33,164.99 L268.14,164.99 L268.94,164.99 L269.75,164.99 L270.55,164.99 L271.35,164.99 L272.16,164.99 L272.96,164.99 L273.76,164.99 L274.57,164.99 L275.37,164.99 L276.18,164.98 L276.98,164.98 L277.78,164.98 L278.59,164.98 L279.39,164.98 L280.19,164.98 L281.00,164.98 L281.80,164.98 L282.61,164.98 L283.41,164.97 L284.21,164.97 L285.02,164.97 L285.82,164.97 L286.62,164.97 L287.43,164.97 L288.23,164.96 L289.04,164.96 L289.84,164.96 L290.64,164.96 L291.45,164.95 L292.25,164.95 L293.06,164.95 L293.86,164.95 L294.66,164.94 L295.47,164.94 L296.27,164.94 L297.08,164.93 L297.88,164.93 L298.68,164.92 L299.49,164.92 L300.29,164.91 L301.10,164.91 L301.90,164.90 L302.70,164.90 L303.51,164.89 L304.31,164.89 L305.12,164.88 L305.92,164.87 L306.73,164.86 L307.53,164.86 L308.33,164.85 L309.14,164.84 L309.94,164.83 L310.75,164.82 L311.55,164.81 L312.36,164.80 L313.16,164.79 L313.97,164.77 L314.77,164.76 L315.58,164.75 L316.38,164.73 L317.19,164.71 L317.99,164.70 L318.80,164.68 L319.60,164.66 L320.41,164.64 L321.21,164.62 L322.02,164.60 L322.83,164.57 L323.63,164.55 L324.44,164.52 L325.24,164.49 L326.05,164.46 L326.86,164.43 L327.66,164.40 L328.47,164.36 L329.28,164.32 L330.08,164.29 L330.89,164.24 L331.70,164.20 L332.51,164.15 L333.32,164.10 L334.12,164.05 L334.93,163.99 L335.74,163.93 L336.55,163.87 L337.36,163.80 L338.17,163.73 L338.98,163.66 L339.79,163.58 L340.60,163.50 L341.42,163.41 L342.23,163.32 L343.04,163.22 L343.85,163.11 L344.67,163.00 L345.48,162.88 L346.30,162.76 L347.11,162.63 L347.93,162.49 L348.75,162.35 L349.56,162.19 L350.35,162.04 L351.14,161.87 L351.92,161.70 L352.71,161.51 L353.50,161.32 L354.29,161.12 L355.08,160.90 L355.88,160.67 L356.67,160.44 L357.47,160.19 L358.23,159.93 L358.99,159.67 L359.76,159.39 L360.53,159.09 L361.30,158.78 L362.07,158.46 L362.80,158.14 L363.54,157.80 L364.29,157.44 L365.03,157.07 L365.74,156.70 L366.45,156.31 L367.17,155.91 L367.89,155.48 L368.57,155.06 L369.26,154.63 L369.95,154.18 L370.64,153.70 L371.30,153.24 L371.96,152.76 L372.62,152.26 L373.28,151.74 L373.91,151.23 L374.55,150.70 L375.18,150.16 L375.79,149.63 L376.39,149.08 L377.00,148.52 L377.61,147.94 L378.18,147.37 L378.76,146.79 L379.34,146.20 L379.93,145.59 L380.47,145.00 L381.02,144.40 L381.58,143.79 L382.13,143.15 L382.69,142.51 L383.21,141.89 L383.74,141.26 L384.26,140.62 L384.79,139.96 L385.33,139.29 L385.82,138.66 L386.32,138.02 L386.82,137.36 L387.32,136.69 L387.83,136.01 L388.34,135.32 L388.85,134.62 L389.32,133.96 L389.79,133.30 L390.27,132.62 L390.75,131.94 L391.23,131.25 L391.72,130.55 L392.20,129.84 L392.69,129.12 L393.14,128.45 L393.60,127.78 L394.05,127.10 L394.51,126.42 L394.97,125.73 L395.43,125.03 L395.90,124.33 L396.36,123.63 L396.83,122.92 L397.30,122.20 L397.78,121.48 L398.26,120.76 L398.74,120.03 L399.22,119.30 L399.70,118.57 L400.15,117.90 L400.59,117.23 L401.04,116.56 L401.49,115.89 L401.95,115.22 L402.40,114.55 L402.86,113.88 L403.32,113.20 L403.78,112.53 L404.25,111.87 L404.72,111.20 L405.19,110.53 L405.66,109.87 L406.14,109.21 L406.62,108.56 L407.10,107.90 L407.59,107.26 L408.08,106.61 L408.57,105.98 L409.06,105.34 L409.61,104.66 L410.16,103.98 L410.72,103.31 L411.28,102.65 L411.84,102.00 L412.40,101.36 L412.97,100.73 L413.55,100.11 L414.13,99.51 L414.71,98.92 L415.29,98.34 L415.88,97.78 L416.48,97.24 L417.13,96.66 L417.79,96.10 L418.45,95.57 L419.12,95.05 L419.80,94.56 L420.47,94.09 L421.16,93.64 L421.85,93.22 L422.54,92.82 L423.30,92.42 L424.06,92.05 L424.84,91.71 L425.61,91.40 L426.40,91.13 L427.19,90.89 L427.98,90.68 L428.79,90.50 L429.60,90.36 L430.41,90.25 L431.23,90.18 L432.06,90.15 L432.90,90.14 L433.74,90.18 L434.59,90.24 L435.44,90.34 L436.24,90.47 L437.04,90.62 L437.84,90.81 L438.66,91.02 L439.47,91.26 L440.30,91.52 L441.05,91.79 L441.82,92.08 L442.58,92.40 L443.36,92.74 L444.13,93.09 L444.91,93.47 L445.63,93.83 L446.35,94.21 L447.07,94.61 L447.79,95.02 L448.52,95.45 L449.25,95.89 L449.99,96.34 L450.50,96.67" stroke="#0062b4"/>
<path d="M283.28,164.97 L284.08,164.97 L284.88,164.97 L285.69,164.97 L286.49,164.97 L287.30,164.96 L288.10,164.96 L288.90,164.96 L289.71,164.96 L290.51,164.95 L291.31,164.95 L292.12,164.95 L292.92,164.94 L293.73,164.94 L294.53,164.94 L295.33,164.93 L296.14,164.93 L296.94,164.93 L297.75,164.92 L298.55,164.92 L299.35,164.91 L300.16,164.91 L300.96,164.90 L301.77,164.90 L302.57,164.89 L303.38,164.88 L304.18,164.88 L304.98,164.87 L305.79,164.86 L306.59,164.85 L307.40,164.84 L308.20,164.84 L309.01,164.83 L309.81,164.82 L310.62,164.80 L311.42,164.79 L312.23,164.78 L313.03,164.77 L313.83,164.75 L314.64,164.74 L315.44,164.72 L316.25,164.71 L317.06,164.69 L317.86,164.67 L318.67,164.65 L319.47,164.63 L320.28,164.61 L321.08,164.59 L321.89,164.56 L322.69,164.54 L323.50,164.51 L324.31,164.48 L325.11,164.45 L325.92,164.42 L326.73,164.38 L327.53,164.35 L328.34,164.31 L329.15,164.27 L329.96,164.23 L330.76,164.18 L331.57,164.13 L332.38,164.08 L333.19,164.03 L334.00,163.97 L334.81,163.91 L335.62,163.84 L336.43,163.78 L337.24,163.70 L338.05,163.63 L338.86,163.55 L339.67,163.46 L340.48,163.37 L341.29,163.28 L342.11,163.18 L342.92,163.07 L343.73,162.96 L344.55,162.84 L345.36,162.71 L346.18,162.58 L347.00,162.44 L347.81,162.29 L348.63,162.13 L349.42,161.97 L350.20,161.80 L350.99,161.62 L351.78,161.43 L352.57,161.24 L353.36,161.03 L354.15,160.81 L354.95,160.58 L355.74,160.33 L356.50,160.09 L357.27,159.83 L358.03,159.56 L358.80,159.27 L359.57,158.97 L360.33,158.66 L361.07,158.34 L361.81,158.01 L362.55,157.67 L363.29,157.30 L364.04,156.93 L364.75,156.55 L365.46,156.15 L366.17,155.74 L366.89,155.31 L367.58,154.89 L368.26,154.44 L368.95,153.98 L369.64,153.50 L370.30,153.02 L370.96,152.53 L371.62,152.02 L372.25,151.52 L372.88,151.00 L373.51,150.47 L374.15,149.91 L374.75,149.37 L375.35,148.82 L375.96,148.24 L376.57,147.65 L377.14,147.08 L377.72,146.49 L378.30,145.88 L378.88,145.26 L379.42,144.66 L379.97,144.04 L380.52,143.41 L381.08,142.76 L381.59,142.15 L382.11,141.51 L382.63,140.87 L383.16,140.21 L383.68,139.54 L384.17,138.90 L384.67,138.25 L385.16,137.59 L385.66,136.91 L386.16,136.22 L386.66,135.52 L387.12,134.87 L387.59,134.20 L388.05,133.52 L388.52,132.83 L388.99,132.13 L389.47,131.42 L389.94,130.70 L390.42,129.97 L390.86,129.29 L391.30,128.61 L391.74,127.91 L392.19,127.21 L392.64,126.50 L393.09,125.78 L393.54,125.05 L393.99,124.32 L394.44,123.58 L394.90,122.83 L395.32,122.14 L395.74,121.44 L396.16,120.75 L396.58,120.04 L397.00,119.33 L397.43,118.62 L397.86,117.90 L398.29,117.17 L398.72,116.44 L399.15,115.71 L399.59,114.97 L400.03,114.23 L400.47,113.48 L400.91,112.74 L401.35,111.98 L401.80,111.23 L402.24,110.47 L402.69,109.71 L403.15,108.95 L403.60,108.19 L404.01,107.50 L404.42,106.81 L404.84,106.12 L405.25,105.43 L405.67,104.74 L406.09,104.05 L406.51,103.37 L406.94,102.68 L407.36,101.99 L407.79,101.30 L408.22,100.61 L408.65,99.93 L409.08,99.25 L409.52,98.57 L409.95,97.89 L410.39,97.22 L410.83,96.54 L411.28,95.88 L411.77,95.14 L412.27,94.41 L412.77,93.68 L413.27,92.96 L413.78,92.24 L414.28,91.53 L414.79,90.83 L415.31,90.13 L415.82,89.45 L416.34,88.77 L416.86,88.10 L417.38,87.43 L417.91,86.78 L418.44,86.14 L418.97,85.51 L419.51,84.89 L420.04,84.28 L420.58,83.68 L421.18,83.04 L421.78,82.41 L422.38,81.80 L422.99,81.20 L423.60,80.62 L424.22,80.06 L424.83,79.51 L425.46,78.98 L426.08,78.47 L426.77,77.94 L427.46,77.43 L428.15,76.94 L428.85,76.48 L429.55,76.04 L430.26,75.63 L430.97,75.24 L431.68,74.88 L432.46,74.51 L433.25,74.18 L434.04,73.88 L434.83,73.61 L435.63,73.38 L436.44,73.17 L437.25,73.00 L438.06,72.87 L438.88,72.77 L439.71,72.70 L440.54,72.66 L441.37,72.66 L442.22,72.69 L443.06,72.75 L443.91,72.85 L444.77,72.98 L445.56,73.14 L446.36,73.32 L447.16,73.52 L447.97,73.76 L448.78,74.02 L449.60,74.31 L450.35,74.60 L451.11,74.91 L451.87,75.25 L452.63,75.60 L453.39,75.98 L454.16,76.38 L454.94,76.79 L455.64,77.19 L456.35,77.61 L457.06,78.04 L457.78,78.49 L458.50,78.95 L459.22,79.43 L459.94,79.92 L460.67,80.43 L461.32,80.90 L461.98,81.38 L462.64,81.87 L463.31,82.37 L463.97,82.88 L464.64,83.40 L465.31,83.94 L465.98,84.48 L466.66,85.03 L467.33,85.59 L468.01,86.16 L468.69,86.73 L469.38,87.32 L469.99,87.85 L470.60,88.38 L471.21,88.92 L471.83,89.46 L472.44,90.01 L473.06,90.57 L473.68,91.12 L474.30,91.69 L474.92,92.26 L475.55,92.83 L476.10,93.33" stroke="#f04a0c"/>
<path d="M302.63,164.89 L303.43,164.88 L304.23,164.88 L305.04,164.87 L305.84,164.86 L306.65,164.85 L307.45,164.84 L308.26,164.83 L309.06,164.82 L309.87,164.81 L310.67,164.80 L311.48,164.79 L312.28,164.78 L313.08,164.76 L313.89,164.75 L314.69,164.74 L315.50,164.72 L316.31,164.70 L317.11,164.69 L317.92,164.67 L318.72,164.65 L319.53,164.63 L320.33,164.61 L321.14,164.58 L321.94,164.56 L322.75,164.53 L323.56,164.50 L324.36,164.47 L325.17,164.44 L325.98,164.41 L326.78,164.38 L327.59,164.34 L328.40,164.30 L329.20,164.26 L330.01,164.21 L330.82,164.17 L331.63,164.12 L332.44,164.07 L333.24,164.01 L334.05,163.95 L334.86,163.89 L335.67,163.83 L336.48,163.76 L337.29,163.69 L338.10,163.61 L338.91,163.53 L339.73,163.44 L340.54,163.35 L341.35,163.25 L342.16,163.15 L342.98,163.04 L343.79,162.93 L344.61,162.81 L345.42,162.68 L346.24,162.54 L347.05,162.40 L347.87,162.25 L348.66,162.10 L349.44,161.93 L350.23,161.76 L351.02,161.58 L351.81,161.39 L352.60,161.19 L353.39,160.98 L354.18,160.76 L354.97,160.53 L355.77,160.28 L356.53,160.03 L357.29,159.77 L358.06,159.50 L358.82,159.21 L359.59,158.91 L360.36,158.59 L361.10,158.27 L361.84,157.94 L362.58,157.59 L363.32,157.22 L364.06,156.84 L364.77,156.46 L365.49,156.06 L366.20,155.64 L366.92,155.21 L367.60,154.77 L368.29,154.33 L368.98,153.86 L369.63,153.40 L370.29,152.92 L370.95,152.42 L371.61,151.91 L372.24,151.40 L372.87,150.88 L373.51,150.34 L374.14,149.78 L374.74,149.24 L375.35,148.67 L375.95,148.09 L376.52,147.53 L377.10,146.95 L377.67,146.36 L378.25,145.74 L378.79,145.15 L379.34,144.55 L379.89,143.93 L380.44,143.29 L380.99,142.64 L381.50,142.02 L382.02,141.38 L382.54,140.73 L383.07,140.07 L383.59,139.39 L384.08,138.74 L384.57,138.09 L385.06,137.42 L385.56,136.73 L386.05,136.04 L386.55,135.33 L387.01,134.66 L387.48,133.99 L387.94,133.30 L388.41,132.60 L388.88,131.89 L389.35,131.17 L389.82,130.44 L390.26,129.76 L390.69,129.07 L391.13,128.37 L391.57,127.66 L392.02,126.95 L392.46,126.22 L392.90,125.49 L393.35,124.74 L393.80,123.99 L394.21,123.30 L394.62,122.60 L395.04,121.90 L395.45,121.19 L395.87,120.47 L396.28,119.75 L396.70,119.02 L397.12,118.28 L397.55,117.54 L397.97,116.79 L398.40,116.04 L398.83,115.28 L399.26,114.51 L399.69,113.74 L400.12,112.97 L400.51,112.27 L400.91,111.56 L401.30,110.85 L401.70,110.14 L402.09,109.42 L402.49,108.70 L402.89,107.98 L403.30,107.26 L403.70,106.53 L404.11,105.80 L404.51,105.06 L404.92,104.33 L405.33,103.59 L405.74,102.85 L406.16,102.11 L406.57,101.37 L406.99,100.63 L407.41,99.89 L407.83,99.14 L408.25,98.40 L408.67,97.65 L409.10,96.91 L409.52,96.16 L409.95,95.42 L410.38,94.67 L410.81,93.93 L411.25,93.19 L411.68,92.44 L412.12,91.70 L412.56,90.97 L413.00,90.23 L413.44,89.50 L413.88,88.77 L414.33,88.04 L414.78,87.31 L415.23,86.59 L415.68,85.87 L416.13,85.16 L416.59,84.45 L417.04,83.74 L417.50,83.04 L417.96,82.34 L418.43,81.65 L418.89,80.96 L419.36,80.28 L419.82,79.61 L420.29,78.94 L420.76,78.27 L421.24,77.61 L421.71,76.96 L422.19,76.32 L422.72,75.61 L423.26,74.92 L423.79,74.23 L424.33,73.55 L424.87,72.88 L425.42,72.22 L425.96,71.58 L426.51,70.94 L427.06,70.31 L427.61,69.70 L428.17,69.10 L428.73,68.51 L429.29,67.93 L429.90,67.31 L430.53,66.71 L431.15,66.12 L431.78,65.55 L432.41,64.99 L433.04,64.45 L433.67,63.93 L434.31,63.43 L434.95,62.94 L435.65,62.44 L436.36,61.95 L437.07,61.48 L437.78,61.04 L438.49,60.62 L439.21,60.22 L439.93,59.85 L440.66,59.50 L441.45,59.15 L442.24,58.83 L443.04,58.53 L443.84,58.26 L444.65,58.03 L445.45,57.82 L446.27,57.64 L447.08,57.49 L447.90,57.37 L448.73,57.28 L449.55,57.21 L450.39,57.18 L451.22,57.18 L452.06,57.21 L452.90,57.27 L453.75,57.35 L454.60,57.47 L455.39,57.60 L456.18,57.76 L456.98,57.95 L457.78,58.15 L458.58,58.39 L459.39,58.65 L460.19,58.93 L461.01,59.23 L461.75,59.54 L462.50,59.86 L463.26,60.20 L464.01,60.56 L464.77,60.94 L465.53,61.34 L466.29,61.76 L466.99,62.16 L467.69,62.57 L468.39,63.00 L469.10,63.44 L469.80,63.90 L470.51,64.37 L471.22,64.86 L471.93,65.36 L472.65,65.87 L473.29,66.35 L473.94,66.83 L474.59,67.33 L475.24,67.83 L475.89,68.35 L476.55,68.88 L477.21,69.41 L477.86,69.96 L478.53,70.52 L479.19,71.08 L479.85,71.66 L480.52,72.24 L481.19,72.83 L481.86,73.43 L482.45,73.97 L483.05,74.52 L483.65,75.07 L484.25,75.63 L484.86,76.20 L485.46,76.77 L486.07,77.34 L486.67,77.92 L487.28,78.51 L487.89,79.10 L488.50,79.70 L489.12,80.30 L489.73,80.91 L490.35,81.52 L490.96,82.13 L491.58,82.75 L492.20,83.37 L492.83,84.00 L493.45,84.63 L494.07,85.26 L494.70,85.89 L495.33,86.53 L495.41,86.61" stroke="#f8a800"/>
<path d="M328.20,164.26 L329.00,164.21 L329.81,164.17 L330.62,164.12 L331.43,164.06 L332.24,164.01 L333.05,163.95 L333.85,163.89 L334.66,163.82 L335.47,163.75 L336.28,163.68 L337.09,163.60 L337.91,163.52 L338.72,163.44 L339.53,163.34 L340.34,163.25 L341.15,163.14 L341.97,163.04 L342.78,162.92 L343.60,162.80 L344.41,162.67 L345.23,162.53 L346.05,162.39 L346.86,162.24 L347.65,162.08 L348.43,161.92 L349.22,161.75 L350.01,161.57 L350.80,161.38 L351.59,161.18 L352.38,160.97 L353.17,160.75 L353.97,160.51 L354.76,160.26 L355.52,160.01 L356.29,159.75 L357.05,159.48 L357.82,159.19 L358.59,158.88 L359.35,158.56 L360.09,158.25 L360.83,157.91 L361.57,157.56 L362.31,157.19 L363.06,156.81 L363.77,156.42 L364.48,156.02 L365.20,155.61 L365.91,155.17 L366.60,154.74 L367.28,154.29 L367.97,153.82 L368.63,153.36 L369.29,152.88 L369.94,152.38 L370.61,151.86 L371.23,151.35 L371.87,150.83 L372.50,150.29 L373.13,149.72 L373.73,149.18 L374.34,148.61 L374.94,148.03 L375.51,147.46 L376.09,146.88 L376.66,146.28 L377.24,145.67 L377.78,145.08 L378.33,144.47 L378.88,143.85 L379.42,143.21 L379.98,142.55 L380.49,141.93 L381.01,141.29 L381.53,140.63 L382.05,139.96 L382.58,139.28 L383.06,138.63 L383.55,137.97 L384.05,137.30 L384.54,136.61 L385.04,135.91 L385.50,135.25 L385.96,134.58 L386.42,133.90 L386.88,133.21 L387.35,132.51 L387.82,131.79 L388.29,131.07 L388.72,130.39 L389.15,129.71 L389.59,129.01 L390.03,128.31 L390.46,127.60 L390.90,126.88 L391.35,126.14 L391.79,125.40 L392.24,124.65 L392.64,123.97 L393.05,123.27 L393.46,122.57 L393.87,121.85 L394.28,121.14 L394.70,120.41 L395.11,119.68 L395.53,118.94 L395.95,118.20 L396.37,117.44 L396.79,116.68 L397.22,115.92 L397.64,115.15 L398.07,114.37 L398.45,113.67 L398.84,112.96 L399.23,112.24 L399.62,111.53 L400.01,110.80 L400.40,110.08 L400.80,109.35 L401.19,108.61 L401.59,107.87 L401.99,107.13 L402.39,106.38 L402.79,105.63 L403.19,104.88 L403.60,104.13 L404.00,103.37 L404.41,102.61 L404.82,101.84 L405.23,101.08 L405.64,100.31 L406.05,99.54 L406.47,98.77 L406.89,97.99 L407.30,97.22 L407.72,96.44 L408.14,95.66 L408.57,94.88 L408.99,94.10 L409.42,93.32 L409.84,92.54 L410.27,91.76 L410.70,90.98 L411.14,90.20 L411.57,89.42 L412.01,88.64 L412.44,87.86 L412.88,87.09 L413.32,86.31 L413.76,85.53 L414.21,84.76 L414.65,83.99 L415.10,83.22 L415.55,82.45 L416.00,81.69 L416.45,80.93 L416.90,80.17 L417.36,79.41 L417.81,78.66 L418.27,77.91 L418.73,77.16 L419.19,76.42 L419.65,75.68 L420.12,74.95 L420.58,74.22 L421.05,73.49 L421.52,72.77 L421.99,72.06 L422.46,71.35 L422.94,70.64 L423.41,69.95 L423.89,69.25 L424.37,68.56 L424.85,67.88 L425.33,67.21 L425.82,66.54 L426.30,65.88 L426.79,65.22 L427.28,64.57 L427.77,63.93 L428.26,63.30 L428.80,62.60 L429.35,61.91 L429.91,61.24 L430.46,60.57 L431.01,59.91 L431.57,59.26 L432.13,58.62 L432.69,58.00 L433.25,57.38 L433.82,56.77 L434.38,56.18 L434.95,55.59 L435.52,55.02 L436.09,54.46 L436.73,53.85 L437.36,53.26 L437.99,52.68 L438.63,52.12 L439.27,51.57 L439.91,51.04 L440.56,50.52 L441.20,50.01 L441.85,49.53 L442.50,49.05 L443.21,48.55 L443.93,48.07 L444.64,47.61 L445.36,47.16 L446.08,46.74 L446.81,46.33 L447.53,45.94 L448.26,45.57 L448.99,45.22 L449.72,44.89 L450.52,44.55 L451.32,44.24 L452.12,43.95 L452.93,43.68 L453.73,43.43 L454.54,43.21 L455.36,43.01 L456.17,42.83 L456.99,42.68 L457.81,42.55 L458.64,42.44 L459.46,42.36 L460.29,42.30 L461.12,42.26 L461.96,42.25 L462.79,42.26 L463.63,42.29 L464.48,42.34 L465.32,42.42 L466.17,42.52 L467.02,42.65 L467.87,42.80 L468.66,42.96 L469.45,43.13 L470.25,43.33 L471.04,43.55 L471.84,43.78 L472.64,44.04 L473.45,44.31 L474.25,44.61 L475.06,44.92 L475.80,45.23 L476.55,45.55 L477.29,45.89 L478.04,46.24 L478.79,46.61 L479.54,46.99 L480.30,47.39 L481.06,47.81 L481.81,48.24 L482.51,48.64 L483.20,49.06 L483.89,49.49 L484.59,49.94 L485.29,50.39 L485.99,50.86 L486.69,51.34 L487.39,51.83 L488.10,52.34 L488.81,52.85 L489.52,53.38 L490.16,53.87 L490.80,54.36 L491.44,54.86 L492.08,55.38 L492.73,55.90 L493.37,56.43 L494.02,56.97 L494.67,57.52 L495.32,58.07 L495.98,58.64 L496.63,59.21 L497.29,59.80 L497.94,60.39 L498.60,60.99 L499.26,61.59 L499.85,62.14 L500.44,62.69 L501.03,63.25 L501.62,63.81 L502.22,64.38 L502.81,64.95 L503.40,65.53 L504.00,66.12 L504.60,66.71 L505.20,67.30 L505.80,67.90 L506.40,68.51 L507.00,69.12 L507.61,69.73 L508.21,70.35 L508.82,70.98 L509.43,71.60 L510.04,72.24 L510.65,72.87 L511.26,73.51 L511.87,74.16 L512.49,74.81 L513.10,75.46 L513.72,76.11 L514.34,76.77 L514.96,77.43 L515.58,78.10 L516.20,78.76 L516.74,79.35 L517.29,79.94 L517.84,80.53 L518.39,81.12 L518.93,81.71 L519.48,82.30 L520.04,82.90 L520.59,83.50 L520.98,83.93" stroke="#7e1f8e"/>
<path d="M347.55,163.75 L348.36,163.68 L349.17,163.60 L349.98,163.52 L350.79,163.43 L351.61,163.34 L352.42,163.24 L353.23,163.14 L354.04,163.03 L354.86,162.91 L355.67,162.79 L356.49,162.66 L357.31,162.53 L358.12,162.38 L358.94,162.23 L359.73,162.07 L360.51,161.91 L361.30,161.74 L362.09,161.56 L362.88,161.37 L363.67,161.17 L364.46,160.95 L365.25,160.73 L366.04,160.49 L366.84,160.25 L367.60,160.00 L368.36,159.73 L369.13,159.46 L369.90,159.17 L370.66,158.86 L371.43,158.54 L372.17,158.22 L372.91,157.88 L373.65,157.53 L374.39,157.16 L375.13,156.78 L375.85,156.39 L376.56,155.99 L377.27,155.57 L377.99,155.14 L378.68,154.70 L379.36,154.25 L380.05,153.78 L380.71,153.32 L381.36,152.83 L382.02,152.33 L382.69,151.82 L383.31,151.31 L383.95,150.78 L384.58,150.24 L385.18,149.70 L385.78,149.16 L386.38,148.59 L386.99,148.01 L387.56,147.44 L388.13,146.86 L388.71,146.26 L389.29,145.64 L389.83,145.05 L390.37,144.44 L390.92,143.82 L391.47,143.18 L392.02,142.52 L392.54,141.90 L393.06,141.26 L393.58,140.60 L394.10,139.93 L394.58,139.30 L395.07,138.65 L395.56,137.99 L396.05,137.31 L396.55,136.63 L397.04,135.93 L397.50,135.27 L397.96,134.60 L398.42,133.92 L398.89,133.23 L399.35,132.52 L399.82,131.81 L400.29,131.08 L400.72,130.41 L401.16,129.72 L401.59,129.03 L402.03,128.32 L402.47,127.61 L402.91,126.89 L403.35,126.16 L403.79,125.42 L404.24,124.67 L404.64,123.98 L405.05,123.28 L405.46,122.57 L405.87,121.86 L406.28,121.14 L406.70,120.42 L407.11,119.68 L407.53,118.94 L407.95,118.20 L408.37,117.44 L408.79,116.68 L409.21,115.92 L409.64,115.15 L410.07,114.37 L410.45,113.66 L410.84,112.95 L411.23,112.23 L411.61,111.51 L412.01,110.79 L412.40,110.06 L412.79,109.33 L413.19,108.59 L413.58,107.85 L413.98,107.11 L414.38,106.36 L414.78,105.61 L415.18,104.85 L415.59,104.09 L415.99,103.33 L416.40,102.57 L416.81,101.80 L417.22,101.03 L417.63,100.26 L418.04,99.48 L418.46,98.71 L418.87,97.93 L419.29,97.15 L419.71,96.37 L420.13,95.59 L420.55,94.80 L420.97,94.02 L421.40,93.23 L421.82,92.45 L422.25,91.66 L422.68,90.87 L423.11,90.09 L423.55,89.30 L423.98,88.51 L424.42,87.73 L424.85,86.94 L425.29,86.16 L425.73,85.38 L426.18,84.60 L426.62,83.82 L427.07,83.04 L427.51,82.26 L427.96,81.49 L428.41,80.72 L428.86,79.95 L429.32,79.18 L429.77,78.42 L430.23,77.66 L430.69,76.90 L431.15,76.15 L431.61,75.40 L432.07,74.65 L432.54,73.91 L433.00,73.17 L433.47,72.44 L433.94,71.71 L434.41,70.98 L434.88,70.26 L435.36,69.55 L435.83,68.84 L436.31,68.14 L436.79,67.44 L437.27,66.75 L437.75,66.06 L438.23,65.38 L438.71,64.71 L439.20,64.04 L439.69,63.38 L440.18,62.73 L440.67,62.08 L441.16,61.44 L441.65,60.80 L442.20,60.11 L442.76,59.42 L443.31,58.74 L443.86,58.08 L444.42,57.42 L444.98,56.77 L445.54,56.13 L446.10,55.50 L446.67,54.88 L447.23,54.27 L447.80,53.67 L448.37,53.09 L448.94,52.51 L449.52,51.94 L450.15,51.33 L450.78,50.74 L451.42,50.15 L452.06,49.58 L452.70,49.03 L453.34,48.48 L453.98,47.95 L454.63,47.44 L455.28,46.94 L455.93,46.45 L456.58,45.98 L457.29,45.48 L458.01,45.00 L458.72,44.53 L459.44,44.09 L460.17,43.66 L460.89,43.25 L461.62,42.85 L462.34,42.47 L463.07,42.12 L463.81,41.77 L464.54,41.45 L465.34,41.12 L466.14,40.81 L466.95,40.52 L467.75,40.26 L468.56,40.01 L469.37,39.79 L470.18,39.58 L471.00,39.40 L471.82,39.24 L472.64,39.10 L473.46,38.98 L474.29,38.89 L475.11,38.81 L475.94,38.76 L476.78,38.72 L477.61,38.71 L478.45,38.72 L479.29,38.75 L480.13,38.81 L480.97,38.88 L481.82,38.98 L482.67,39.09 L483.52,39.23 L484.31,39.38 L485.10,39.54 L485.89,39.72 L486.68,39.93 L487.48,40.14 L488.28,40.38 L489.08,40.64 L489.88,40.91 L490.68,41.20 L491.49,41.51 L492.30,41.84 L493.04,42.15 L493.78,42.48 L494.53,42.83 L495.28,43.19 L496.03,43.56 L496.78,43.95 L497.54,44.36 L498.29,44.77 L499.05,45.21 L499.74,45.61 L500.43,46.03 L501.13,46.46 L501.82,46.90 L502.52,47.36 L503.22,47.82 L503.92,48.30 L504.62,48.79 L505.32,49.29 L506.02,49.80 L506.73,50.32 L507.44,50.86 L508.08,51.35 L508.72,51.85 L509.36,52.35 L510.00,52.87 L510.65,53.39 L511.29,53.93 L511.94,54.47 L512.59,55.02 L513.24,55.58 L513.89,56.15 L514.54,56.72 L515.19,57.30 L515.85,57.89 L516.51,58.49 L517.16,59.10 L517.75,59.64 L518.34,60.19 L518.93,60.75 L519.52,61.31 L520.11,61.88 L520.70,62.45 L521.29,63.03 L521.89,63.62 L522.48,64.21 L523.08,64.80 L523.68,65.40 L524.28,66.01 L524.88,66.61 L525.48,67.23 L526.08,67.85 L526.69,68.47 L527.29,69.10 L527.90,69.73 L528.51,70.36 L529.12,71.00 L529.73,71.65 L530.34,72.29 L530.95,72.95 L531.57,73.60 L532.18,74.26 L532.80,74.92 L533.41,75.58 L534.03,76.25 L534.65,76.92 L535.20,77.51 L535.74,78.10 L536.29,78.69 L536.83,79.29 L537.38,79.88 L537.93,80.48 L538.48,81.08 L539.03,81.68 L539.58,82.28 L540.13,82.89 L540.37,83.15" stroke="#4f9e10"/>
<path d="M392.48,162.56 L393.29,162.42 L394.11,162.27 L394.90,162.12 L395.68,161.96 L396.47,161.79 L397.26,161.61 L398.05,161.42 L398.84,161.22 L399.63,161.01 L400.42,160.79 L401.21,160.56 L402.01,160.31 L402.77,160.07 L403.53,159.81 L404.30,159.54 L405.06,159.25 L405.83,158.95 L406.60,158.63 L407.34,158.32 L408.07,157.98 L408.81,157.64 L409.56,157.27 L410.30,156.89 L411.01,156.51 L411.72,156.12 L412.44,155.70 L413.15,155.27 L413.84,154.84 L414.52,154.40 L415.21,153.93 L415.90,153.45 L416.56,152.97 L417.22,152.48 L417.88,151.97 L418.51,151.46 L419.14,150.94 L419.77,150.40 L420.40,149.84 L421.00,149.30 L421.61,148.74 L422.21,148.16 L422.78,147.60 L423.36,147.02 L423.93,146.43 L424.51,145.82 L425.05,145.23 L425.59,144.63 L426.14,144.01 L426.69,143.37 L427.24,142.72 L427.76,142.10 L428.27,141.46 L428.79,140.81 L429.31,140.15 L429.84,139.47 L430.33,138.82 L430.82,138.16 L431.31,137.49 L431.80,136.81 L432.29,136.11 L432.79,135.40 L433.25,134.74 L433.71,134.06 L434.18,133.37 L434.64,132.67 L435.11,131.96 L435.58,131.23 L436.05,130.50 L436.49,129.82 L436.92,129.12 L437.36,128.42 L437.80,127.71 L438.24,126.99 L438.68,126.26 L439.12,125.52 L439.57,124.77 L440.01,124.01 L440.42,123.32 L440.83,122.62 L441.24,121.90 L441.65,121.19 L442.07,120.46 L442.48,119.73 L442.90,118.99 L443.32,118.25 L443.74,117.49 L444.16,116.73 L444.58,115.97 L445.01,115.20 L445.43,114.42 L445.82,113.72 L446.21,113.01 L446.60,112.29 L446.98,111.57 L447.38,110.85 L447.77,110.12 L448.16,109.39 L448.56,108.66 L448.95,107.92 L449.35,107.17 L449.75,106.43 L450.15,105.68 L450.56,104.92 L450.96,104.17 L451.36,103.41 L451.77,102.65 L452.18,101.88 L452.59,101.11 L453.00,100.35 L453.41,99.57 L453.83,98.80 L454.25,98.02 L454.66,97.25 L455.08,96.47 L455.50,95.69 L455.93,94.91 L456.35,94.13 L456.77,93.34 L457.20,92.56 L457.63,91.78 L458.06,91.00 L458.49,90.21 L458.93,89.43 L459.36,88.65 L459.80,87.87 L460.23,87.09 L460.67,86.31 L461.12,85.53 L461.56,84.75 L462.00,83.98 L462.45,83.20 L462.90,82.43 L463.35,81.67 L463.80,80.90 L464.25,80.14 L464.70,79.38 L465.16,78.62 L465.62,77.86 L466.08,77.11 L466.54,76.37 L467.00,75.62 L467.46,74.88 L467.93,74.15 L468.39,73.42 L468.86,72.69 L469.33,71.97 L469.80,71.26 L470.28,70.55 L470.75,69.84 L471.23,69.14 L471.71,68.45 L472.19,67.76 L472.67,67.08 L473.15,66.40 L473.63,65.73 L474.12,65.07 L474.61,64.41 L475.10,63.76 L475.59,63.12 L476.08,62.48 L476.63,61.79 L477.18,61.10 L477.73,60.42 L478.28,59.75 L478.84,59.09 L479.40,58.44 L479.95,57.80 L480.52,57.17 L481.08,56.55 L481.64,55.94 L482.21,55.34 L482.78,54.75 L483.35,54.18 L483.92,53.61 L484.55,53.00 L485.18,52.40 L485.82,51.82 L486.46,51.25 L487.10,50.70 L487.74,50.16 L488.38,49.64 L489.03,49.13 L489.67,48.63 L490.32,48.15 L490.98,47.68 L491.69,47.19 L492.40,46.72 L493.12,46.26 L493.84,45.82 L494.56,45.40 L495.29,45.00 L496.02,44.62 L496.75,44.26 L497.48,43.91 L498.21,43.58 L499.01,43.25 L499.81,42.94 L500.61,42.65 L501.42,42.39 L502.23,42.14 L503.04,41.92 L503.85,41.72 L504.67,41.55 L505.48,41.39 L506.31,41.26 L507.13,41.15 L507.95,41.06 L508.78,41.00 L509.61,40.96 L510.45,40.94 L511.28,40.94 L512.12,40.97 L512.96,41.02 L513.81,41.09 L514.65,41.18 L515.50,41.30 L516.36,41.44 L517.14,41.59 L517.93,41.76 L518.73,41.94 L519.52,42.15 L520.32,42.37 L521.12,42.62 L521.92,42.88 L522.72,43.16 L523.53,43.46 L524.34,43.78 L525.08,44.09 L525.83,44.41 L526.57,44.75 L527.32,45.11 L528.07,45.48 L528.82,45.87 L529.58,46.27 L530.33,46.69 L531.09,47.12 L531.78,47.53 L532.48,47.94 L533.17,48.38 L533.87,48.82 L534.56,49.27 L535.26,49.74 L535.97,50.22 L536.67,50.71 L537.37,51.22 L538.08,51.73 L538.79,52.26 L539.43,52.74 L540.07,53.23 L540.71,53.74 L541.35,54.25 L541.99,54.77 L542.64,55.30 L543.29,55.83 L543.94,56.38 L544.59,56.93 L545.24,57.50 L545.89,58.07 L546.55,58.65 L547.20,59.24 L547.86,59.83 L548.52,60.43 L549.18,61.05 L549.77,61.60 L550.36,62.15 L550.95,62.71 L551.54,63.28 L552.13,63.85 L552.73,64.43 L553.32,65.01 L553.92,65.60 L554.52,66.20 L555.12,66.79 L555.72,67.40 L556.32,68.01 L556.92,68.62 L557.53,69.24 L558.13,69.86 L558.74,70.49 L559.34,71.12 L559.95,71.75 L560.56,72.39 L561.18,73.04 L561.79,73.68 L562.40,74.33 L563.02,74.99 L563.63,75.64 L564.25,76.30 L564.87,76.97 L565.49,77.63 L566.11,78.30 L566.66,78.89 L567.21,79.48 L567.75,80.07 L568.30,80.67 L568.85,81.26 L569.40,81.86 L569.95,82.46 L570.50,83.05 L571.05,83.66 L571.61,84.26 L572.16,84.86 L572.72,85.46 L573.27,86.07 L573.83,86.68 L574.39,87.28 L574.95,87.89 L575.51,88.50 L576.07,89.10 L576.64,89.71 L577.20,90.32 L577.76,90.93 L578.33,91.54 L578.89,92.15 L579.46,92.76 L580.03,93.37 L580.60,93.98 L581.17,94.58 L581.74,95.19 L582.31,95.80 L582.88,96.40 L583.46,97.01 L584.03,97.61 L584.61,98.22 L585.19,98.82 L585.27,98.91" stroke="#12b4ec"/>
</g>
<line x1="361.4" y1="165.0" x2="361.4" y2="105.2" stroke="#0000ff" stroke-width="2.4" stroke-dasharray="10 7"/>
<line x1="379.7" y1="165.0" x2="379.7" y2="105.2" stroke="#ff0000" stroke-width="2.4" stroke-dasharray="10 7"/>
<g font-family='"Liberation Sans", sans-serif' font-size="11.5" fill="#262626" stroke="#262626" stroke-width="0.25">
<text x="311.80" y="169.30" text-anchor="end">0</text>
<text x="311.80" y="138.16" text-anchor="end">0.2</text>
<text x="311.80" y="107.02" text-anchor="end">0.4</text>
<text x="311.80" y="75.88" text-anchor="end">0.6</text>
<text x="311.80" y="44.74" text-anchor="end">0.8</text>
<text x="311.80" y="13.60" text-anchor="end">1</text>
<text x="315.10" y="183.00" text-anchor="middle">10<tspan font-size="8.2" dy="-5.2">‑2</tspan></text>
<text x="347.24" y="183.00" text-anchor="middle">10<tspan font-size="8.2" dy="-5.2">‑1</tspan></text>
<text x="379.39" y="183.00" text-anchor="middle">10<tspan font-size="8.2" dy="-5.2">0</tspan></text>
<text x="411.53" y="183.00" text-anchor="middle">10<tspan font-size="8.2" dy="-5.2">1</tspan></text>
<text x="443.67" y="183.00" text-anchor="middle">10<tspan font-size="8.2" dy="-5.2">2</tspan></text>
<text x="475.81" y="183.00" text-anchor="middle">10<tspan font-size="8.2" dy="-5.2">3</tspan></text>
<text x="507.96" y="183.00" text-anchor="middle">10<tspan font-size="8.2" dy="-5.2">4</tspan></text>
<text x="540.10" y="183.00" text-anchor="middle">10<tspan font-size="8.2" dy="-5.2">5</tspan></text>
</g>
<text transform="translate(290.3 87.15) rotate(-90)" font-family='"Liberation Sans", sans-serif' font-size="11.6" fill="#262626" stroke="#262626" stroke-width="0.2" text-anchor="middle">IQE</text>
<text x="427.6" y="199.2" font-family='"Liberation Sans", sans-serif' font-size="12.2" fill="#262626" stroke="#262626" stroke-width="0.2" text-anchor="middle">LED current (<tspan font-family="Liberation Serif" font-style="italic" font-size="13">μ</tspan>A)</text>
<rect x="320.4" y="18.3" width="76.70000000000005" height="82.2" fill="#fff" stroke="#8a8a8a" stroke-width="0.9"/>
<line x1="324.5" y1="27.10" x2="359.0" y2="27.10" stroke="#0062b4" stroke-width="2.5"/>
<text x="361.4" y="31.00" font-family='"Liberation Sans", sans-serif' font-size="10.3" fill="#262626" stroke="#262626" stroke-width="0.2">4<tspan font-family="Liberation Serif" font-style="italic" font-size="11">μ</tspan>m</text>
<line x1="324.5" y1="40.70" x2="359.0" y2="40.70" stroke="#f04a0c" stroke-width="2.5"/>
<text x="361.4" y="44.60" font-family='"Liberation Sans", sans-serif' font-size="10.3" fill="#262626" stroke="#262626" stroke-width="0.2">10<tspan font-family="Liberation Serif" font-style="italic" font-size="11">μ</tspan>m</text>
<line x1="324.5" y1="54.30" x2="359.0" y2="54.30" stroke="#f8a800" stroke-width="2.5"/>
<text x="361.4" y="58.20" font-family='"Liberation Sans", sans-serif' font-size="10.3" fill="#262626" stroke="#262626" stroke-width="0.2">20<tspan font-family="Liberation Serif" font-style="italic" font-size="11">μ</tspan>m</text>
<line x1="324.5" y1="67.90" x2="359.0" y2="67.90" stroke="#7e1f8e" stroke-width="2.5"/>
<text x="361.4" y="71.80" font-family='"Liberation Sans", sans-serif' font-size="10.3" fill="#262626" stroke="#262626" stroke-width="0.2">50<tspan font-family="Liberation Serif" font-style="italic" font-size="11">μ</tspan>m</text>
<line x1="324.5" y1="81.50" x2="359.0" y2="81.50" stroke="#4f9e10" stroke-width="2.5"/>
<text x="361.4" y="85.40" font-family='"Liberation Sans", sans-serif' font-size="10.3" fill="#262626" stroke="#262626" stroke-width="0.2">100<tspan font-family="Liberation Serif" font-style="italic" font-size="11">μ</tspan>m</text>
<line x1="324.5" y1="95.10" x2="359.0" y2="95.10" stroke="#12b4ec" stroke-width="2.5"/>
<text x="361.4" y="99.00" font-family='"Liberation Sans", sans-serif' font-size="10.3" fill="#262626" stroke="#262626" stroke-width="0.2">500<tspan font-family="Liberation Serif" font-style="italic" font-size="11">μ</tspan>m</text>
<rect x="508.3" y="134.0" width="23.5" height="28.2" fill="#fff"/>
<text x="511.8" y="153.9" font-family='"Liberation Sans", sans-serif' font-size="14.5" font-weight="bold" fill="#000" stroke="#000" stroke-width="0.35" textLength="17.5" lengthAdjust="spacingAndGlyphs">(b)</text>
<clipPath id="cc"><rect x="181.35" y="220.6" width="208.15" height="158.70000000000002"/></clipPath>
<clipPath id="cc2"><rect x="181.35" y="220.6" width="208.15" height="159.70000000000002"/></clipPath>
<line x1="181.35" y1="220.6" x2="389.5" y2="220.6" stroke="#8c8c8c" stroke-width="1.2"/>
<line x1="181.35" y1="379.3" x2="389.5" y2="379.3" stroke="#8c8c8c" stroke-width="1.2"/>
<line x1="181.35" y1="220.6" x2="181.35" y2="379.3" stroke="#6fb2de" stroke-width="1.2"/>
<line x1="389.5" y1="220.6" x2="389.5" y2="379.3" stroke="#f3a88c" stroke-width="1.2"/>
<line x1="181.35" y1="379.3" x2="181.35" y2="376.7" stroke="#7d7d7d" stroke-width="0.8"/><line x1="181.35" y1="220.6" x2="181.35" y2="223.2" stroke="#7d7d7d" stroke-width="0.8"/><line x1="222.98" y1="379.3" x2="222.98" y2="376.7" stroke="#7d7d7d" stroke-width="0.8"/><line x1="222.98" y1="220.6" x2="222.98" y2="223.2" stroke="#7d7d7d" stroke-width="0.8"/><line x1="264.61" y1="379.3" x2="264.61" y2="376.7" stroke="#7d7d7d" stroke-width="0.8"/><line x1="264.61" y1="220.6" x2="264.61" y2="223.2" stroke="#7d7d7d" stroke-width="0.8"/><line x1="306.24" y1="379.3" x2="306.24" y2="376.7" stroke="#7d7d7d" stroke-width="0.8"/><line x1="306.24" y1="220.6" x2="306.24" y2="223.2" stroke="#7d7d7d" stroke-width="0.8"/><line x1="347.87" y1="379.3" x2="347.87" y2="376.7" stroke="#7d7d7d" stroke-width="0.8"/><line x1="347.87" y1="220.6" x2="347.87" y2="223.2" stroke="#7d7d7d" stroke-width="0.8"/><line x1="389.50" y1="379.3" x2="389.50" y2="376.7" stroke="#7d7d7d" stroke-width="0.8"/><line x1="389.50" y1="220.6" x2="389.50" y2="223.2" stroke="#7d7d7d" stroke-width="0.8"/><line x1="181.35" y1="379.30" x2="183.95" y2="379.30" stroke="#0a6cbf" stroke-width="0.8"/><line x1="181.35" y1="347.56" x2="183.95" y2="347.56" stroke="#0a6cbf" stroke-width="0.8"/><line x1="181.35" y1="315.82" x2="183.95" y2="315.82" stroke="#0a6cbf" stroke-width="0.8"/><line x1="181.35" y1="284.08" x2="183.95" y2="284.08" stroke="#0a6cbf" stroke-width="0.8"/><line x1="181.35" y1="252.34" x2="183.95" y2="252.34" stroke="#0a6cbf" stroke-width="0.8"/><line x1="181.35" y1="220.60" x2="183.95" y2="220.60" stroke="#0a6cbf" stroke-width="0.8"/><line x1="389.5" y1="379.30" x2="386.9" y2="379.30" stroke="#f0501a" stroke-width="0.8"/><line x1="389.5" y1="326.40" x2="386.9" y2="326.40" stroke="#f0501a" stroke-width="0.8"/><line x1="389.5" y1="273.50" x2="386.9" y2="273.50" stroke="#f0501a" stroke-width="0.8"/><line x1="389.5" y1="220.60" x2="386.9" y2="220.60" stroke="#f0501a" stroke-width="0.8"/>
<g clip-path="url(#cc)" fill="none"><path d="M182.72,384.3 L182.72,395.17 L182.78,385.98 L182.84,375.87 L182.90,366.23 L182.96,358.44 L183.02,353.88 L183.07,351.63 L183.13,349.85 L183.19,348.43 L183.25,347.24 L183.31,346.17 L183.37,345.10 L183.42,343.90 L183.48,342.55 L183.54,341.16 L183.60,339.73 L183.66,338.29 L183.72,336.85 L183.78,335.43 L183.83,334.03 L183.89,332.69 L183.95,331.41 L184.01,330.21 L184.07,329.11 L184.13,328.11 L184.18,327.25 L184.24,326.52 L184.30,325.93 L184.36,325.39 L184.42,324.90 L184.48,324.44 L184.53,324.02 L184.59,323.63 L184.65,323.26 L184.71,322.92 L184.77,322.60 L184.83,322.29 L184.89,321.99 L184.94,321.70 L185.00,321.41 L185.06,321.11 L185.12,320.82 L185.18,320.51 L185.24,320.19 L185.29,319.85 L185.35,319.49 L185.41,319.10 L185.47,318.69 L185.53,318.24 L185.59,317.76 L185.64,317.24 L185.70,316.69 L185.76,316.12 L185.82,315.51 L185.88,314.89 L185.94,314.24 L186.00,313.57 L186.05,312.88 L186.11,312.18 L186.17,311.47 L186.23,310.74 L186.29,310.01 L186.35,309.27 L186.40,308.52 L186.46,307.77 L186.52,307.02 L186.58,306.27 L186.64,305.53 L186.70,304.79 L186.75,304.06 L186.81,303.35 L186.87,302.64 L186.93,301.95 L186.99,301.28 L187.05,300.62 L187.11,299.99 L187.16,299.38 L187.22,298.80 L187.28,298.24 L187.34,297.72 L187.40,297.22 L187.46,296.76 L187.51,296.34 L187.57,295.96 L187.63,295.61 L187.69,295.27 L187.75,294.94 L187.81,294.62 L187.86,294.31 L187.92,294.00 L187.98,293.71 L188.04,293.42 L188.10,293.14 L188.16,292.86 L188.22,292.60 L188.27,292.34 L188.33,292.08 L188.39,291.83 L188.45,291.59 L188.51,291.35 L188.57,291.12 L188.62,290.89 L188.68,290.67 L188.74,290.45 L188.80,290.23 L188.86,290.02 L188.92,289.81 L188.97,289.60 L189.03,289.40 L189.09,289.20 L189.15,289.00 L189.21,288.80 L189.27,288.61 L189.33,288.41 L189.38,288.22 L189.44,288.03 L189.50,287.83 L189.56,287.64 L189.62,287.45 L189.68,287.25 L189.68,287.25 L190.34,285.03 L191.01,282.80 L191.68,280.58 L192.35,278.37 L193.02,276.20 L193.69,274.07 L194.35,271.99 L195.02,269.97 L195.69,268.04 L196.36,266.20 L197.03,264.46 L197.70,262.83 L198.36,261.33 L199.03,259.98 L199.70,258.77 L200.37,257.73 L201.04,256.86 L201.71,256.18 L202.37,255.69 L203.04,255.27 L203.71,254.86 L204.38,254.46 L205.05,254.08 L205.72,253.72 L206.38,253.37 L207.05,253.03 L207.72,252.71 L208.39,252.40 L209.06,252.11 L209.73,251.82 L210.39,251.56 L211.06,251.30 L211.73,251.06 L212.40,250.82 L213.07,250.60 L213.74,250.39 L214.40,250.20 L215.07,250.01 L215.74,249.83 L216.41,249.67 L217.08,249.51 L217.74,249.37 L218.41,249.23 L219.08,249.10 L219.75,248.99 L220.42,248.88 L221.09,248.77 L221.75,248.68 L222.42,248.60 L223.09,248.52 L223.76,248.44 L224.43,248.37 L225.10,248.30 L225.76,248.23 L226.43,248.15 L227.10,248.08 L227.77,248.02 L228.44,247.95 L229.11,247.88 L229.77,247.81 L230.44,247.75 L231.11,247.68 L231.78,247.62 L232.45,247.56 L233.12,247.50 L233.78,247.44 L234.45,247.38 L235.12,247.32 L235.79,247.27 L236.46,247.21 L237.13,247.16 L237.79,247.10 L238.46,247.05 L239.13,247.00 L239.80,246.95 L240.47,246.90 L241.14,246.85 L241.80,246.81 L242.47,246.76 L243.14,246.72 L243.81,246.67 L244.48,246.63 L245.15,246.59 L245.81,246.55 L246.48,246.51 L247.15,246.48 L247.82,246.44 L248.49,246.41 L249.16,246.38 L249.82,246.34 L250.49,246.31 L251.16,246.28 L251.83,246.26 L252.50,246.23 L253.17,246.21 L253.83,246.18 L254.50,246.16 L255.17,246.14 L255.84,246.12 L256.51,246.10 L257.18,246.08 L257.84,246.07 L258.51,246.05 L259.18,246.04 L259.85,246.03 L260.52,246.02 L261.18,246.01 L261.85,246.00 L262.52,246.00 L263.19,246.00 L263.86,245.99 L264.53,245.99 L265.19,245.99 L265.86,245.99 L266.53,246.00 L267.20,246.00 L267.87,246.00 L268.54,246.01 L269.20,246.01 L269.87,246.02 L270.54,246.03 L271.21,246.04 L271.88,246.04 L272.55,246.05 L273.21,246.06 L273.88,246.08 L274.55,246.09 L275.22,246.10 L275.89,246.12 L276.56,246.13 L277.22,246.15 L277.89,246.16 L278.56,246.18 L279.23,246.20 L279.90,246.22 L280.57,246.23 L281.23,246.25 L281.90,246.28 L282.57,246.30 L283.24,246.32 L283.91,246.34 L284.58,246.37 L285.24,246.39 L285.91,246.41 L286.58,246.44 L287.25,246.47 L287.92,246.49 L288.59,246.52 L289.25,246.55 L289.92,246.58 L290.59,246.61 L291.26,246.64 L291.93,246.67 L292.60,246.70 L293.26,246.73 L293.93,246.76 L294.60,246.80 L295.27,246.83 L295.94,246.87 L296.61,246.90 L297.27,246.94 L297.94,246.97 L298.61,247.01 L299.28,247.05 L299.95,247.08 L300.62,247.12 L301.28,247.16 L301.95,247.20 L302.62,247.24 L303.29,247.28 L303.96,247.32 L304.62,247.36 L305.29,247.40 L305.96,247.44 L306.63,247.49 L307.30,247.53 L307.97,247.57 L308.63,247.62 L309.30,247.66 L309.97,247.71 L310.64,247.75 L311.31,247.80 L311.98,247.84 L312.64,247.89 L313.31,247.93 L313.98,247.98 L314.65,248.03 L315.32,248.08 L315.99,248.13 L316.65,248.17 L317.32,248.22 L317.99,248.27 L318.66,248.32 L319.33,248.37 L320.00,248.42 L320.66,248.47 L321.33,248.52 L322.00,248.57 L322.67,248.62 L323.34,248.68 L324.01,248.73 L324.67,248.78 L325.34,248.83 L326.01,248.88 L326.68,248.94 L327.35,248.99 L328.02,249.04 L328.68,249.10 L329.35,249.15 L330.02,249.21 L330.69,249.26 L331.36,249.31 L332.03,249.37 L332.69,249.42 L333.36,249.48 L334.03,249.53 L334.70,249.59 L335.37,249.64 L336.04,249.70 L336.70,249.75 L337.37,249.81 L338.04,249.87 L338.71,249.92 L339.38,249.98 L340.05,250.03 L340.71,250.09 L341.38,250.15 L342.05,250.20 L342.72,250.26 L343.39,250.31 L344.06,250.37 L344.72,250.43 L345.39,250.48 L346.06,250.54 L346.73,250.60 L347.40,250.65 L348.06,250.71 L348.73,250.77 L349.40,250.82 L350.07,250.88 L350.74,250.94 L351.41,250.99 L352.07,251.05 L352.74,251.11 L353.41,251.16 L354.08,251.22 L354.75,251.28 L355.42,251.33 L356.08,251.39 L356.75,251.44 L357.42,251.50 L358.09,251.56 L358.76,251.61 L359.43,251.67 L360.09,251.72 L360.76,251.78 L361.43,251.83 L362.10,251.89 L362.77,251.94 L363.44,252.00 L364.10,252.05 L364.77,252.11 L365.44,252.16 L366.11,252.21 L366.78,252.27 L367.45,252.32 L368.11,252.38 L368.78,252.43 L369.45,252.48 L370.12,252.53 L370.79,252.59 L371.46,252.64 L372.12,252.69 L372.79,252.74 L373.46,252.79 L374.13,252.84 L374.80,252.90 L375.47,252.95 L376.13,253.00 L376.80,253.05 L377.47,253.10 L378.14,253.15 L378.81,253.19 L379.48,253.24 L380.14,253.29 L380.81,253.34 L381.48,253.39 L382.15,253.43 L382.82,253.48 L383.49,253.53 L384.15,253.57 L384.82,253.62 L385.49,253.66 L386.16,253.71 L386.83,253.75 L387.50,253.80 L388.16,253.84 L388.83,253.88 L389.50,253.93" stroke="#0a6cbf" stroke-width="2.2"/></g>
<g clip-path="url(#cc2)" fill="none"><path d="M183.02,379.25 L183.71,379.16 L184.40,379.06 L185.09,378.95 L185.78,378.83 L186.47,378.69 L187.16,378.53 L187.85,378.36 L188.54,378.19 L189.23,378.02 L189.92,377.87 L190.61,377.73 L191.30,377.59 L191.99,377.46 L192.68,377.33 L193.37,377.20 L194.06,377.07 L194.76,376.95 L195.45,376.83 L196.14,376.70 L196.83,376.57 L197.52,376.45 L198.21,376.32 L198.90,376.18 L199.59,376.05 L200.28,375.91 L200.97,375.76 L201.66,375.61 L202.35,375.45 L203.04,375.28 L203.73,375.11 L204.42,374.94 L205.11,374.76 L205.80,374.57 L206.50,374.38 L207.19,374.19 L207.88,373.99 L208.57,373.79 L209.26,373.58 L209.95,373.38 L210.64,373.17 L211.33,372.95 L212.02,372.74 L212.71,372.52 L213.40,372.30 L214.09,372.08 L214.78,371.85 L215.47,371.63 L216.16,371.40 L216.85,371.17 L217.54,370.94 L218.24,370.71 L218.93,370.49 L219.62,370.26 L220.31,370.03 L221.00,369.80 L221.69,369.57 L222.38,369.34 L223.07,369.11 L223.76,368.89 L224.45,368.66 L225.14,368.43 L225.83,368.20 L226.52,367.97 L227.21,367.74 L227.90,367.50 L228.59,367.27 L229.28,367.03 L229.97,366.80 L230.67,366.56 L231.36,366.32 L232.05,366.08 L232.74,365.83 L233.43,365.59 L234.12,365.34 L234.81,365.09 L235.50,364.84 L236.19,364.59 L236.88,364.33 L237.57,364.07 L238.26,363.81 L238.95,363.55 L239.64,363.29 L240.33,363.02 L241.02,362.75 L241.71,362.48 L242.41,362.21 L243.10,361.93 L243.79,361.66 L244.48,361.38 L245.17,361.10 L245.86,360.82 L246.55,360.54 L247.24,360.25 L247.93,359.96 L248.62,359.68 L249.31,359.39 L250.00,359.09 L250.69,358.80 L251.38,358.50 L252.07,358.20 L252.76,357.90 L253.45,357.60 L254.15,357.30 L254.84,356.99 L255.53,356.68 L256.22,356.37 L256.91,356.06 L257.60,355.75 L258.29,355.43 L258.98,355.11 L259.67,354.79 L260.36,354.47 L261.05,354.14 L261.74,353.81 L262.43,353.48 L263.12,353.15 L263.81,352.82 L264.50,352.48 L265.19,352.14 L265.89,351.80 L266.58,351.45 L267.27,351.10 L267.96,350.75 L268.65,350.40 L269.34,350.04 L270.03,349.68 L270.72,349.32 L271.41,348.95 L272.10,348.58 L272.79,348.21 L273.48,347.84 L274.17,347.46 L274.86,347.09 L275.55,346.70 L276.24,346.32 L276.93,345.93 L277.63,345.55 L278.32,345.15 L279.01,344.76 L279.70,344.36 L280.39,343.97 L281.08,343.57 L281.77,343.16 L282.46,342.76 L283.15,342.35 L283.84,341.94 L284.53,341.53 L285.22,341.12 L285.91,340.70 L286.60,340.28 L287.29,339.86 L287.98,339.44 L288.67,339.02 L289.37,338.59 L290.06,338.16 L290.75,337.73 L291.44,337.30 L292.13,336.86 L292.82,336.43 L293.51,335.98 L294.20,335.54 L294.89,335.09 L295.58,334.64 L296.27,334.19 L296.96,333.73 L297.65,333.28 L298.34,332.81 L299.03,332.35 L299.72,331.88 L300.41,331.41 L301.11,330.94 L301.80,330.46 L302.49,329.99 L303.18,329.50 L303.87,329.02 L304.56,328.53 L305.25,328.04 L305.94,327.55 L306.63,327.06 L307.32,326.56 L308.01,326.06 L308.70,325.56 L309.39,325.05 L310.08,324.54 L310.77,324.03 L311.46,323.52 L312.15,323.00 L312.85,322.48 L313.54,321.96 L314.23,321.43 L314.92,320.91 L315.61,320.38 L316.30,319.84 L316.99,319.31 L317.68,318.76 L318.37,318.22 L319.06,317.67 L319.75,317.12 L320.44,316.56 L321.13,316.01 L321.82,315.44 L322.51,314.88 L323.20,314.31 L323.89,313.74 L324.59,313.16 L325.28,312.58 L325.97,312.00 L326.66,311.42 L327.35,310.83 L328.04,310.23 L328.73,309.64 L329.42,309.04 L330.11,308.44 L330.80,307.84 L331.49,307.23 L332.18,306.62 L332.87,306.00 L333.56,305.39 L334.25,304.77 L334.94,304.15 L335.63,303.52 L336.32,302.89 L337.02,302.26 L337.71,301.63 L338.40,300.99 L339.09,300.35 L339.78,299.71 L340.47,299.06 L341.16,298.41 L341.85,297.76 L342.54,297.10 L343.23,296.44 L343.92,295.77 L344.61,295.10 L345.30,294.43 L345.99,293.75 L346.68,293.07 L347.37,292.38 L348.06,291.69 L348.76,291.00 L349.45,290.31 L350.14,289.61 L350.83,288.91 L351.52,288.20 L352.21,287.49 L352.90,286.78 L353.59,286.07 L354.28,285.35 L354.97,284.63 L355.66,283.91 L356.35,283.19 L357.04,282.46 L357.73,281.73 L358.42,281.00 L359.11,280.27 L359.80,279.54 L360.50,278.80 L361.19,278.06 L361.88,277.32 L362.57,276.58 L363.26,275.84 L363.95,275.09 L364.64,274.34 L365.33,273.60 L366.02,272.85 L366.71,272.10 L367.40,271.35 L368.09,270.60 L368.78,269.84 L369.47,269.09 L370.16,268.34 L370.85,267.58 L371.54,266.82 L372.24,266.07 L372.93,265.31 L373.62,264.56 L374.31,263.80 L375.00,263.04 L375.69,262.29 L376.38,261.53 L377.07,260.77 L377.76,260.02 L378.45,259.26 L379.14,258.50 L379.83,257.73 L380.52,256.96 L381.21,256.19 L381.90,255.41 L382.59,254.63 L383.28,253.85 L383.98,253.07 L384.67,252.28 L385.36,251.49 L386.05,250.70 L386.74,249.91 L387.43,249.12 L388.12,248.32 L388.81,247.53 L389.50,246.73" stroke="#f0501a" stroke-width="2.1"/>
<circle cx="183.02" cy="379.25" r="3.5" stroke="#f0501a" stroke-width="1.75"/>
<circle cx="183.43" cy="379.22" r="3.5" stroke="#f0501a" stroke-width="1.75"/>
<circle cx="184.26" cy="379.13" r="3.5" stroke="#f0501a" stroke-width="1.75"/>
<circle cx="185.51" cy="378.88" r="3.5" stroke="#f0501a" stroke-width="1.75"/>
<circle cx="187.59" cy="378.35" r="3.5" stroke="#f0501a" stroke-width="1.75"/>
<circle cx="189.68" cy="377.92" r="3.5" stroke="#f0501a" stroke-width="1.75"/>
<circle cx="202.16" cy="375.49" r="3.5" stroke="#f0501a" stroke-width="1.75"/>
<circle cx="222.98" cy="369.14" r="3.5" stroke="#f0501a" stroke-width="1.75"/>
<circle cx="264.61" cy="352.43" r="3.5" stroke="#f0501a" stroke-width="1.75"/>
<circle cx="389.50" cy="246.73" r="3.5" stroke="#f0501a" stroke-width="1.75"/>
</g>
<g fill="none">
<circle cx="183.02" cy="353.91" r="3.5" stroke="#0a6cbf" stroke-width="1.75"/>
<circle cx="183.43" cy="343.75" r="3.5" stroke="#0a6cbf" stroke-width="1.75"/>
<circle cx="184.26" cy="326.29" r="3.5" stroke="#0a6cbf" stroke-width="1.75"/>
<circle cx="185.51" cy="318.36" r="3.5" stroke="#0a6cbf" stroke-width="1.75"/>
<circle cx="187.59" cy="295.82" r="3.5" stroke="#0a6cbf" stroke-width="1.75"/>
<circle cx="189.68" cy="287.25" r="3.5" stroke="#0a6cbf" stroke-width="1.75"/>
<circle cx="202.16" cy="255.83" r="3.5" stroke="#0a6cbf" stroke-width="1.75"/>
<circle cx="222.98" cy="248.53" r="3.5" stroke="#0a6cbf" stroke-width="1.75"/>
<circle cx="264.61" cy="245.99" r="3.5" stroke="#0a6cbf" stroke-width="1.75"/>
<circle cx="389.50" cy="253.93" r="3.5" stroke="#0a6cbf" stroke-width="1.75"/>
</g>
<g font-family='"Liberation Sans", sans-serif' font-size="11" stroke-width="0.25">
<text x="176.85" y="383.30" text-anchor="end" fill="#0a6cbf" stroke="#0a6cbf">0.4</text>
<text x="176.85" y="351.56" text-anchor="end" fill="#0a6cbf" stroke="#0a6cbf">0.5</text>
<text x="176.85" y="319.82" text-anchor="end" fill="#0a6cbf" stroke="#0a6cbf">0.6</text>
<text x="176.85" y="288.08" text-anchor="end" fill="#0a6cbf" stroke="#0a6cbf">0.7</text>
<text x="176.85" y="256.34" text-anchor="end" fill="#0a6cbf" stroke="#0a6cbf">0.8</text>
<text x="176.85" y="224.60" text-anchor="end" fill="#0a6cbf" stroke="#0a6cbf">0.9</text>
<text x="394.00" y="383.30" fill="#e8532a" stroke="#e8532a">0</text>
<text x="394.00" y="330.40" fill="#e8532a" stroke="#e8532a">5</text>
<text x="394.00" y="277.50" fill="#e8532a" stroke="#e8532a">10</text>
<text x="394.00" y="224.60" fill="#e8532a" stroke="#e8532a">15</text>
<text x="181.35" y="394.80" text-anchor="middle" fill="#262626" stroke="#262626">0</text>
<text x="222.98" y="394.80" text-anchor="middle" fill="#262626" stroke="#262626">100</text>
<text x="264.61" y="394.80" text-anchor="middle" fill="#262626" stroke="#262626">200</text>
<text x="306.24" y="394.80" text-anchor="middle" fill="#262626" stroke="#262626">300</text>
<text x="347.87" y="394.80" text-anchor="middle" fill="#262626" stroke="#262626">400</text>
<text x="389.50" y="394.80" text-anchor="middle" fill="#262626" stroke="#262626">500</text>
</g>
<text x="285.43" y="410.5" font-family='"Liberation Sans", sans-serif' font-size="12.0" fill="#262626" stroke="#262626" stroke-width="0.2" text-anchor="middle">LED dimension (<tspan font-family="Liberation Serif" font-style="italic" font-size="13">μ</tspan>m)</text>
<text transform="translate(150.5 299.95) rotate(-90)" font-family='"Liberation Sans", sans-serif' font-size="12" fill="#0a6cbf" stroke="#0a6cbf" stroke-width="0.2" text-anchor="middle">IQE<tspan font-size="9.4" dy="4.5" dx="0.6">p</tspan></text>
<text transform="translate(421 299.95) rotate(-90)" font-family='"Liberation Sans", sans-serif' font-size="11.9" fill="#e8532a" stroke="#e8532a" stroke-width="0.2" text-anchor="middle">Current for IQE<tspan font-size="8" dy="3.5">p</tspan><tspan dy="-3.5"> (mA)</tspan></text>
<text x="361.3" y="363" font-family='"Liberation Sans", sans-serif' font-size="14" font-weight="bold" fill="#000" stroke="#000" stroke-width="0.35" textLength="15" lengthAdjust="spacingAndGlyphs">(c)</text>
</svg></body></html>
